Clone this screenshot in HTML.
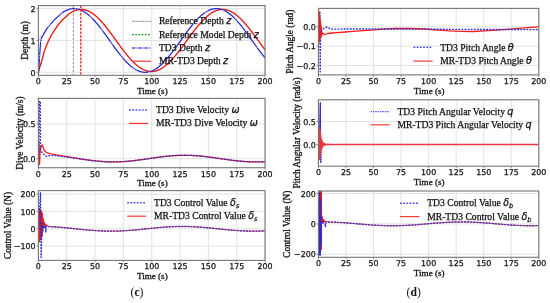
<!DOCTYPE html>
<html><head><meta charset="utf-8"><title>Figure</title><style>
html,body{margin:0;padding:0;background:#fff;overflow:hidden;}
svg{display:block;}
.tk{font-family:"DejaVu Sans","Liberation Sans",sans-serif;font-size:7.95px;fill:#111;stroke:#111;stroke-width:0.25px;}
.lb{font-family:"Liberation Serif",serif;font-size:9.3px;fill:#111;stroke:#111;stroke-width:0.3px;}
.xl{font-size:9.1px;}
.lg{font-family:"Liberation Serif",serif;font-size:9.65px;fill:#111;stroke:#111;stroke-width:0.25px;}
.m{font-family:"DejaVu Sans",sans-serif;font-style:oblique;}
.cap{font-family:"Liberation Serif",serif;font-size:11.6px;fill:#111;}
</style></head>
<body><svg width="550" height="303" viewBox="0 0 550 303">
<defs><clipPath id="clipA"><rect x="38.4" y="5.6" width="226.65" height="69.7"/></clipPath><clipPath id="clipB"><rect x="38.4" y="98.4" width="226.65" height="69.29999999999998"/></clipPath><clipPath id="clipC"><rect x="38.4" y="190.6" width="226.65" height="69.79999999999998"/></clipPath><clipPath id="clipD"><rect x="318.45" y="8.4" width="220.34999999999997" height="66.5"/></clipPath><clipPath id="clipE"><rect x="318.45" y="99.8" width="220.34999999999997" height="66.39999999999999"/></clipPath><clipPath id="clipF"><rect x="318.45" y="191.0" width="220.34999999999997" height="66.30000000000001"/></clipPath></defs>
<rect width="550" height="303" fill="#fff"/>
<path d="M38.4,5.6V75.3M66.73,5.6V75.3M95.06,5.6V75.3M123.39,5.6V75.3M151.72,5.6V75.3M180.06,5.6V75.3M208.39,5.6V75.3M236.72,5.6V75.3M265.05,5.6V75.3M38.4,72.3H265.05M38.4,40.45H265.05M38.4,8.6H265.05" stroke="#dcdcdc" stroke-width="0.8" fill="none"/>
<g clip-path="url(#clipA)">
<path d="M38.4,40.45 L39.16,39.38 L39.92,38.32 L40.67,37.26 L41.43,36.2 L42.19,35.15 L42.95,34.1 L43.71,33.06 L44.46,32.03 L45.22,31.01 L45.98,30 L46.74,29 L47.5,28.01 L48.25,27.03 L49.01,26.08 L49.77,25.13 L50.53,24.21 L51.29,23.3 L52.04,22.41 L52.8,21.55 L53.56,20.7 L54.32,19.87 L55.08,19.07 L55.83,18.3 L56.59,17.54 L57.35,16.82 L58.11,16.12 L58.87,15.44 L59.62,14.8 L60.38,14.18 L61.14,13.59 L61.9,13.03 L62.66,12.51 L63.41,12.01 L64.17,11.55 L64.93,11.12 L65.69,10.72 L66.45,10.35 L67.21,10.02 L67.96,9.72 L68.72,9.46 L69.48,9.23 L70.24,9.04 L71,8.88 L71.75,8.76 L72.51,8.67 L73.27,8.62 L74.03,8.6 L74.79,8.62 L75.54,8.67 L76.3,8.76 L77.06,8.89 L77.82,9.05 L78.58,9.25 L79.33,9.48 L80.09,9.74 L80.85,10.04 L81.61,10.38 L82.37,10.74 L83.12,11.14 L83.88,11.58 L84.64,12.04 L85.4,12.54 L86.16,13.07 L86.91,13.63 L87.67,14.22 L88.43,14.84 L89.19,15.49 L89.95,16.16 L90.7,16.86 L91.46,17.59 L92.22,18.35 L92.98,19.13 L93.74,19.93 L94.49,20.75 L95.25,21.6 L96.01,22.47 L96.77,23.36 L97.53,24.27 L98.28,25.2 L99.04,26.14 L99.8,27.1 L100.56,28.07 L101.32,29.06 L102.07,30.06 L102.83,31.07 L103.59,32.1 L104.35,33.13 L105.11,34.17 L105.86,35.22 L106.62,36.27 L107.38,37.33 L108.14,38.39 L108.9,39.46 L109.65,40.52 L110.41,41.59 L111.17,42.65 L111.93,43.71 L112.69,44.77 L113.44,45.82 L114.2,46.87 L114.96,47.91 L115.72,48.94 L116.48,49.96 L117.23,50.97 L117.99,51.97 L118.75,52.96 L119.51,53.93 L120.27,54.89 L121.02,55.83 L121.78,56.75 L122.54,57.66 L123.3,58.54 L124.06,59.41 L124.82,60.26 L125.57,61.08 L126.33,61.88 L127.09,62.66 L127.85,63.41 L128.61,64.13 L129.36,64.83 L130.12,65.5 L130.88,66.15 L131.64,66.76 L132.4,67.35 L133.15,67.9 L133.91,68.43 L134.67,68.92 L135.43,69.38 L136.19,69.81 L136.94,70.21 L137.7,70.57 L138.46,70.9 L139.22,71.19 L139.98,71.46 L140.73,71.68 L141.49,71.87 L142.25,72.03 L143.01,72.15 L143.77,72.24 L144.52,72.29 L145.28,72.3 L146.04,72.28 L146.8,72.22 L147.56,72.13 L148.31,72 L149.07,71.84 L149.83,71.64 L150.59,71.41 L151.35,71.14 L152.1,70.84 L152.86,70.5 L153.62,70.13 L154.38,69.73 L155.14,69.29 L155.89,68.82 L156.65,68.32 L157.41,67.79 L158.17,67.23 L158.93,66.64 L159.68,66.02 L160.44,65.37 L161.2,64.69 L161.96,63.99 L162.72,63.26 L163.47,62.5 L164.23,61.72 L164.99,60.92 L165.75,60.09 L166.51,59.24 L167.26,58.37 L168.02,57.48 L168.78,56.57 L169.54,55.64 L170.3,54.7 L171.05,53.74 L171.81,52.76 L172.57,51.77 L173.33,50.77 L174.09,49.76 L174.84,48.73 L175.6,47.7 L176.36,46.66 L177.12,45.61 L177.88,44.56 L178.63,43.5 L179.39,42.44 L180.15,41.37 L180.91,40.31 L181.67,39.24 L182.43,38.18 L183.18,37.12 L183.94,36.06 L184.7,35.01 L185.46,33.96 L186.22,32.92 L186.97,31.89 L187.73,30.87 L188.49,29.86 L189.25,28.86 L190.01,27.88 L190.76,26.91 L191.52,25.95 L192.28,25.01 L193.04,24.09 L193.8,23.18 L194.55,22.3 L195.31,21.43 L196.07,20.59 L196.83,19.77 L197.59,18.97 L198.34,18.19 L199.1,17.44 L199.86,16.72 L200.62,16.02 L201.38,15.35 L202.13,14.71 L202.89,14.1 L203.65,13.52 L204.41,12.96 L205.17,12.44 L205.92,11.95 L206.68,11.49 L207.44,11.06 L208.2,10.67 L208.96,10.31 L209.71,9.98 L210.47,9.69 L211.23,9.43 L211.99,9.2 L212.75,9.02 L213.5,8.86 L214.26,8.74 L215.02,8.66 L215.78,8.61 L216.54,8.6 L217.29,8.62 L218.05,8.68 L218.81,8.78 L219.57,8.91 L220.33,9.07 L221.08,9.27 L221.84,9.51 L222.6,9.78 L223.36,10.08 L224.12,10.42 L224.87,10.8 L225.63,11.2 L226.39,11.64 L227.15,12.11 L227.91,12.61 L228.66,13.14 L229.42,13.71 L230.18,14.3 L230.94,14.92 L231.7,15.57 L232.45,16.25 L233.21,16.96 L233.97,17.69 L234.73,18.45 L235.49,19.23 L236.24,20.04 L237,20.87 L237.76,21.72 L238.52,22.59 L239.28,23.48 L240.04,24.39 L240.79,25.32 L241.55,26.27 L242.31,27.23 L243.07,28.2 L243.83,29.19 L244.58,30.2 L245.34,31.21 L246.1,32.23 L246.86,33.27 L247.62,34.31 L248.37,35.36 L249.13,36.41 L249.89,37.47 L250.65,38.53 L251.41,39.6 L252.16,40.66 L252.92,41.73 L253.68,42.79 L254.44,43.85 L255.2,44.91 L255.95,45.96 L256.71,47.01 L257.47,48.04 L258.23,49.07 L258.99,50.1 L259.74,51.1 L260.5,52.1 L261.26,53.09 L262.02,54.06 L262.78,55.01 L263.53,55.95 L264.29,56.87 L265.05,57.78" fill="none" stroke="#888888" stroke-width="0.7" stroke-linecap="butt" stroke-linejoin="round" stroke-dasharray="2.5,1.5"/>
<path d="M38.4,72.3 L38.8,70.8 L39.3,68.3 L40.2,66 L41.25,62.8 L42.6,57.6 L44,52.4 L46.1,46.4 L48.2,41.4 L51,35.8 L54.2,30.6 L58.1,25 L63.4,18.9 L68.7,14.2 L69.5,13.48 L70.15,13.05 L70.81,12.64 L71.46,12.25 L72.12,11.89 L72.77,11.55 L73.42,11.23 L74.08,10.94 L74.73,10.67 L75.39,10.43 L76.04,10.21 L76.69,10.02 L77.35,9.86 L78,9.72 L78.66,9.6 L79.31,9.51 L79.96,9.45 L80.62,9.41 L81.27,9.4 L81.93,9.41 L82.58,9.46 L83.23,9.53 L83.89,9.63 L84.54,9.75 L85.2,9.91 L85.85,10.09 L86.5,10.3 L87.16,10.53 L87.81,10.79 L88.47,11.08 L89.12,11.39 L89.77,11.73 L90.43,12.09 L91.08,12.48 L91.74,12.89 L92.39,13.33 L93.04,13.79 L93.7,14.27 L94.35,14.77 L95.01,15.3 L95.66,15.85 L96.31,16.42 L96.97,17.01 L97.62,17.62 L98.28,18.25 L98.93,18.9 L99.58,19.57 L100.24,20.26 L100.89,20.96 L101.55,21.68 L102.2,22.41 L102.85,23.16 L103.51,23.93 L104.16,24.71 L104.82,25.5 L105.47,26.3 L106.12,27.12 L106.78,27.95 L107.43,28.79 L108.09,29.64 L108.74,30.49 L109.39,31.36 L110.05,32.23 L110.7,33.11 L111.36,33.99 L112.01,34.89 L112.66,35.78 L113.32,36.68 L113.97,37.58 L114.63,38.49 L115.28,39.39 L115.93,40.3 L116.59,41.2 L117.24,42.11 L117.9,43.01 L118.55,43.91 L119.21,44.81 L119.86,45.71 L120.51,46.6 L121.17,47.48 L121.82,48.36 L122.48,49.23 L123.13,50.09 L123.78,50.95 L124.44,51.79 L125.09,52.63 L125.75,53.45 L126.4,54.27 L127.05,55.07 L127.71,55.86 L128.36,56.64 L129.02,57.4 L129.67,58.15 L130.32,58.88 L130.98,59.6 L131.63,60.3 L132.29,60.99 L132.94,61.66 L133.59,62.31 L134.25,62.94 L134.9,63.55 L135.56,64.14 L136.21,64.72 L136.86,65.27 L137.52,65.8 L138.17,66.31 L138.83,66.8 L139.48,67.26 L140.13,67.7 L140.79,68.12 L141.44,68.52 L142.1,68.89 L142.75,69.24 L143.4,69.57 L144.06,69.87 L144.71,70.14 L145.37,70.4 L146.02,70.62 L146.67,70.82 L147.33,71 L147.98,71.15 L148.64,71.27 L149.29,71.37 L149.94,71.44 L150.6,71.48 L151.25,71.5 L151.91,71.5 L152.56,71.46 L153.21,71.41 L153.87,71.32 L154.52,71.21 L155.18,71.08 L155.83,70.91 L156.48,70.73 L157.14,70.51 L157.79,70.28 L158.45,70.01 L159.1,69.73 L159.75,69.42 L160.41,69.08 L161.06,68.72 L161.72,68.34 L162.37,67.93 L163.02,67.5 L163.68,67.05 L164.33,66.57 L164.99,66.08 L165.64,65.56 L166.29,65.02 L166.95,64.46 L167.6,63.88 L168.26,63.28 L168.91,62.67 L169.56,62.03 L170.22,61.37 L170.87,60.7 L171.53,60.01 L172.18,59.31 L172.83,58.59 L173.49,57.85 L174.14,57.1 L174.8,56.34 L175.45,55.56 L176.1,54.77 L176.76,53.97 L177.41,53.15 L178.07,52.33 L178.72,51.5 L179.37,50.65 L180.03,49.8 L180.68,48.94 L181.34,48.08 L181.99,47.2 L182.64,46.33 L183.3,45.44 L183.95,44.55 L184.61,43.66 L185.26,42.77 L185.91,41.88 L186.57,40.98 L187.22,40.08 L187.88,39.19 L188.53,38.29 L189.18,37.4 L189.84,36.51 L190.49,35.62 L191.15,34.73 L191.8,33.85 L192.45,32.98 L193.11,32.11 L193.76,31.25 L194.42,30.4 L195.07,29.56 L195.72,28.72 L196.38,27.9 L197.03,27.08 L197.69,26.28 L198.34,25.49 L198.99,24.71 L199.65,23.94 L200.3,23.19 L200.96,22.45 L201.61,21.73 L202.26,21.02 L202.92,20.33 L203.57,19.65 L204.23,19 L204.88,18.36 L205.53,17.74 L206.19,17.14 L206.84,16.55 L207.5,15.99 L208.15,15.45 L208.8,14.93 L209.46,14.43 L210.11,13.95 L210.77,13.49 L211.42,13.06 L212.07,12.65 L212.73,12.26 L213.38,11.9 L214.04,11.56 L214.69,11.24 L215.34,10.95 L216,10.68 L216.65,10.44 L217.31,10.22 L217.96,10.03 L218.62,9.86 L219.27,9.72 L219.92,9.6 L220.58,9.51 L221.23,9.45 L221.89,9.41 L222.54,9.4 L223.19,9.41 L223.85,9.45 L224.5,9.51 L225.16,9.6 L225.81,9.72 L226.46,9.86 L227.12,10.03 L227.77,10.22 L228.43,10.44 L229.08,10.68 L229.73,10.95 L230.39,11.24 L231.04,11.56 L231.7,11.9 L232.35,12.26 L233,12.65 L233.66,13.06 L234.31,13.49 L234.97,13.95 L235.62,14.43 L236.27,14.93 L236.93,15.45 L237.58,15.99 L238.24,16.55 L238.89,17.14 L239.54,17.74 L240.2,18.36 L240.85,19 L241.51,19.65 L242.16,20.33 L242.81,21.02 L243.47,21.73 L244.12,22.45 L244.78,23.19 L245.43,23.94 L246.08,24.7 L246.74,25.48 L247.39,26.28 L248.05,27.08 L248.7,27.89 L249.35,28.72 L250.01,29.55 L250.66,30.4 L251.32,31.25 L251.97,32.11 L252.62,32.97 L253.28,33.85 L253.93,34.72 L254.59,35.61 L255.24,36.49 L255.89,37.39 L256.55,38.28 L257.2,39.17 L257.86,40.07 L258.51,40.96 L259.16,41.86 L259.82,42.75 L260.47,43.65 L261.13,44.54 L261.78,45.42 L262.43,46.31 L263.09,47.18 L263.74,48.06 L264.4,48.92 L265.05,49.78" fill="none" stroke="#1a9a1a" stroke-width="1.0" stroke-linecap="butt" stroke-linejoin="round" stroke-dasharray="1.5,1.2"/>
<path d="M38.4,72.3 L38.8,70.8 L39.3,68.3 L40.2,66 L41.25,62.8 L42.6,57.6 L44,52.4 L46.1,46.4 L48.2,41.4 L51,35.8 L54.2,30.6 L58.1,25 L63.4,18.9 L68.7,14.2 L69.5,13.48 L70.15,13.05 L70.81,12.64 L71.46,12.25 L72.12,11.89 L72.77,11.55 L73.42,11.23 L74.08,10.94 L74.73,10.67 L75.39,10.43 L76.04,10.21 L76.69,10.02 L77.35,9.86 L78,9.72 L78.66,9.6 L79.31,9.51 L79.96,9.45 L80.62,9.41 L81.27,9.4 L81.93,9.41 L82.58,9.46 L83.23,9.53 L83.89,9.63 L84.54,9.75 L85.2,9.91 L85.85,10.09 L86.5,10.3 L87.16,10.53 L87.81,10.79 L88.47,11.08 L89.12,11.39 L89.77,11.73 L90.43,12.09 L91.08,12.48 L91.74,12.89 L92.39,13.33 L93.04,13.79 L93.7,14.27 L94.35,14.77 L95.01,15.3 L95.66,15.85 L96.31,16.42 L96.97,17.01 L97.62,17.62 L98.28,18.25 L98.93,18.9 L99.58,19.57 L100.24,20.26 L100.89,20.96 L101.55,21.68 L102.2,22.41 L102.85,23.16 L103.51,23.93 L104.16,24.71 L104.82,25.5 L105.47,26.3 L106.12,27.12 L106.78,27.95 L107.43,28.79 L108.09,29.64 L108.74,30.49 L109.39,31.36 L110.05,32.23 L110.7,33.11 L111.36,33.99 L112.01,34.89 L112.66,35.78 L113.32,36.68 L113.97,37.58 L114.63,38.49 L115.28,39.39 L115.93,40.3 L116.59,41.2 L117.24,42.11 L117.9,43.01 L118.55,43.91 L119.21,44.81 L119.86,45.71 L120.51,46.6 L121.17,47.48 L121.82,48.36 L122.48,49.23 L123.13,50.09 L123.78,50.95 L124.44,51.79 L125.09,52.63 L125.75,53.45 L126.4,54.27 L127.05,55.07 L127.71,55.86 L128.36,56.64 L129.02,57.4 L129.67,58.15 L130.32,58.88 L130.98,59.6 L131.63,60.3 L132.29,60.99 L132.94,61.66 L133.59,62.31 L134.25,62.94 L134.9,63.55 L135.56,64.14 L136.21,64.72 L136.86,65.27 L137.52,65.8 L138.17,66.31 L138.83,66.8 L139.48,67.26 L140.13,67.7 L140.79,68.12 L141.44,68.52 L142.1,68.89 L142.75,69.24 L143.4,69.57 L144.06,69.87 L144.71,70.14 L145.37,70.4 L146.02,70.62 L146.67,70.82 L147.33,71 L147.98,71.15 L148.64,71.27 L149.29,71.37 L149.94,71.44 L150.6,71.48 L151.25,71.5 L151.91,71.5 L152.56,71.46 L153.21,71.41 L153.87,71.32 L154.52,71.21 L155.18,71.08 L155.83,70.91 L156.48,70.73 L157.14,70.51 L157.79,70.28 L158.45,70.01 L159.1,69.73 L159.75,69.42 L160.41,69.08 L161.06,68.72 L161.72,68.34 L162.37,67.93 L163.02,67.5 L163.68,67.05 L164.33,66.57 L164.99,66.08 L165.64,65.56 L166.29,65.02 L166.95,64.46 L167.6,63.88 L168.26,63.28 L168.91,62.67 L169.56,62.03 L170.22,61.37 L170.87,60.7 L171.53,60.01 L172.18,59.31 L172.83,58.59 L173.49,57.85 L174.14,57.1 L174.8,56.34 L175.45,55.56 L176.1,54.77 L176.76,53.97 L177.41,53.15 L178.07,52.33 L178.72,51.5 L179.37,50.65 L180.03,49.8 L180.68,48.94 L181.34,48.08 L181.99,47.2 L182.64,46.33 L183.3,45.44 L183.95,44.55 L184.61,43.66 L185.26,42.77 L185.91,41.88 L186.57,40.98 L187.22,40.08 L187.88,39.19 L188.53,38.29 L189.18,37.4 L189.84,36.51 L190.49,35.62 L191.15,34.73 L191.8,33.85 L192.45,32.98 L193.11,32.11 L193.76,31.25 L194.42,30.4 L195.07,29.56 L195.72,28.72 L196.38,27.9 L197.03,27.08 L197.69,26.28 L198.34,25.49 L198.99,24.71 L199.65,23.94 L200.3,23.19 L200.96,22.45 L201.61,21.73 L202.26,21.02 L202.92,20.33 L203.57,19.65 L204.23,19 L204.88,18.36 L205.53,17.74 L206.19,17.14 L206.84,16.55 L207.5,15.99 L208.15,15.45 L208.8,14.93 L209.46,14.43 L210.11,13.95 L210.77,13.49 L211.42,13.06 L212.07,12.65 L212.73,12.26 L213.38,11.9 L214.04,11.56 L214.69,11.24 L215.34,10.95 L216,10.68 L216.65,10.44 L217.31,10.22 L217.96,10.03 L218.62,9.86 L219.27,9.72 L219.92,9.6 L220.58,9.51 L221.23,9.45 L221.89,9.41 L222.54,9.4 L223.19,9.41 L223.85,9.45 L224.5,9.51 L225.16,9.6 L225.81,9.72 L226.46,9.86 L227.12,10.03 L227.77,10.22 L228.43,10.44 L229.08,10.68 L229.73,10.95 L230.39,11.24 L231.04,11.56 L231.7,11.9 L232.35,12.26 L233,12.65 L233.66,13.06 L234.31,13.49 L234.97,13.95 L235.62,14.43 L236.27,14.93 L236.93,15.45 L237.58,15.99 L238.24,16.55 L238.89,17.14 L239.54,17.74 L240.2,18.36 L240.85,19 L241.51,19.65 L242.16,20.33 L242.81,21.02 L243.47,21.73 L244.12,22.45 L244.78,23.19 L245.43,23.94 L246.08,24.7 L246.74,25.48 L247.39,26.28 L248.05,27.08 L248.7,27.89 L249.35,28.72 L250.01,29.55 L250.66,30.4 L251.32,31.25 L251.97,32.11 L252.62,32.97 L253.28,33.85 L253.93,34.72 L254.59,35.61 L255.24,36.49 L255.89,37.39 L256.55,38.28 L257.2,39.17 L257.86,40.07 L258.51,40.96 L259.16,41.86 L259.82,42.75 L260.47,43.65 L261.13,44.54 L261.78,45.42 L262.43,46.31 L263.09,47.18 L263.74,48.06 L264.4,48.92 L265.05,49.78" fill="none" stroke="#f21c1c" stroke-width="1.35" stroke-linecap="butt" stroke-linejoin="round"/>
<path d="M38.4,72.3 L38.7,70 L39.2,62.8 L39.9,51.7 L40.6,42.2 L41.3,38.3 L42.2,36.6 L43.3,35 L46.2,29.6 L50.2,24.6 L55.5,18.7 L60.8,14.2 L61.6,13.25 L62.28,12.77 L62.96,12.31 L63.64,11.87 L64.32,11.46 L65,11.08 L65.68,10.72 L66.36,10.39 L67.04,10.09 L67.72,9.81 L68.4,9.57 L69.08,9.35 L69.77,9.15 L70.45,8.99 L71.13,8.86 L71.81,8.75 L72.49,8.67 L73.17,8.62 L73.85,8.6 L74.53,8.61 L75.21,8.65 L75.89,8.71 L76.57,8.8 L77.25,8.93 L77.93,9.08 L78.61,9.26 L79.29,9.46 L79.97,9.7 L80.65,9.96 L81.33,10.25 L82.01,10.57 L82.69,10.91 L83.37,11.28 L84.05,11.68 L84.73,12.1 L85.42,12.55 L86.1,13.03 L86.78,13.53 L87.46,14.05 L88.14,14.6 L88.82,15.17 L89.5,15.76 L90.18,16.37 L90.86,17.01 L91.54,17.67 L92.22,18.35 L92.9,19.04 L93.58,19.76 L94.26,20.5 L94.94,21.25 L95.62,22.02 L96.3,22.81 L96.98,23.62 L97.66,24.44 L98.34,25.27 L99.02,26.12 L99.7,26.98 L100.38,27.85 L101.07,28.73 L101.75,29.63 L102.43,30.53 L103.11,31.44 L103.79,32.36 L104.47,33.29 L105.15,34.23 L105.83,35.17 L106.51,36.11 L107.19,37.06 L107.87,38.01 L108.55,38.97 L109.23,39.92 L109.91,40.88 L110.59,41.84 L111.27,42.79 L111.95,43.74 L112.63,44.69 L113.31,45.64 L113.99,46.58 L114.67,47.51 L115.35,48.44 L116.03,49.37 L116.72,50.28 L117.4,51.18 L118.08,52.08 L118.76,52.96 L119.44,53.84 L120.12,54.7 L120.8,55.55 L121.48,56.38 L122.16,57.2 L122.84,58.01 L123.52,58.8 L124.2,59.57 L124.88,60.33 L125.56,61.07 L126.24,61.79 L126.92,62.49 L127.6,63.17 L128.28,63.83 L128.96,64.46 L129.64,65.08 L130.32,65.68 L131,66.25 L131.68,66.8 L132.37,67.32 L133.05,67.82 L133.73,68.3 L134.41,68.75 L135.09,69.18 L135.77,69.58 L136.45,69.95 L137.13,70.3 L137.81,70.62 L138.49,70.91 L139.17,71.18 L139.85,71.41 L140.53,71.62 L141.21,71.81 L141.89,71.96 L142.57,72.09 L143.25,72.18 L143.93,72.25 L144.61,72.29 L145.29,72.3 L145.97,72.28 L146.65,72.24 L147.33,72.16 L148.02,72.06 L148.7,71.92 L149.38,71.76 L150.06,71.57 L150.74,71.36 L151.42,71.11 L152.1,70.84 L152.78,70.54 L153.46,70.21 L154.14,69.86 L154.82,69.48 L155.5,69.07 L156.18,68.64 L156.86,68.18 L157.54,67.7 L158.22,67.19 L158.9,66.66 L159.58,66.1 L160.26,65.53 L160.94,64.93 L161.62,64.3 L162.3,63.66 L162.98,62.99 L163.67,62.31 L164.35,61.6 L165.03,60.88 L165.71,60.14 L166.39,59.38 L167.07,58.6 L167.75,57.8 L168.43,56.99 L169.11,56.17 L169.79,55.33 L170.47,54.48 L171.15,53.62 L171.83,52.74 L172.51,51.85 L173.19,50.95 L173.87,50.05 L174.55,49.13 L175.23,48.21 L175.91,47.28 L176.59,46.34 L177.27,45.4 L177.95,44.45 L178.63,43.5 L179.32,42.55 L180,41.59 L180.68,40.64 L181.36,39.68 L182.04,38.72 L182.72,37.77 L183.4,36.82 L184.08,35.87 L184.76,34.93 L185.44,33.99 L186.12,33.05 L186.8,32.13 L187.48,31.21 L188.16,30.3 L188.84,29.4 L189.52,28.5 L190.2,27.62 L190.88,26.75 L191.56,25.9 L192.24,25.05 L192.92,24.22 L193.6,23.41 L194.28,22.61 L194.97,21.82 L195.65,21.06 L196.33,20.31 L197.01,19.58 L197.69,18.86 L198.37,18.17 L199.05,17.5 L199.73,16.84 L200.41,16.21 L201.09,15.6 L201.77,15.02 L202.45,14.45 L203.13,13.91 L203.81,13.4 L204.49,12.9 L205.17,12.44 L205.85,11.99 L206.53,11.58 L207.21,11.19 L207.89,10.82 L208.57,10.48 L209.25,10.17 L209.93,9.89 L210.62,9.64 L211.3,9.41 L211.98,9.21 L212.66,9.04 L213.34,8.89 L214.02,8.78 L214.7,8.69 L215.38,8.63 L216.06,8.6 L216.74,8.6 L217.42,8.63 L218.1,8.69 L218.78,8.77 L219.46,8.89 L220.14,9.03 L220.82,9.2 L221.5,9.4 L222.18,9.63 L222.86,9.88 L223.54,10.16 L224.22,10.47 L224.9,10.81 L225.58,11.17 L226.27,11.56 L226.95,11.98 L227.63,12.42 L228.31,12.89 L228.99,13.38 L229.67,13.89 L230.35,14.43 L231.03,15 L231.71,15.58 L232.39,16.19 L233.07,16.82 L233.75,17.47 L234.43,18.15 L235.11,18.84 L235.79,19.55 L236.47,20.28 L237.15,21.03 L237.83,21.8 L238.51,22.58 L239.19,23.38 L239.87,24.2 L240.55,25.03 L241.23,25.87 L241.92,26.73 L242.6,27.59 L243.28,28.47 L243.96,29.37 L244.64,30.27 L245.32,31.18 L246,32.1 L246.68,33.02 L247.36,33.96 L248.04,34.89 L248.72,35.84 L249.4,36.79 L250.08,37.74 L250.76,38.69 L251.44,39.65 L252.12,40.6 L252.8,41.56 L253.48,42.51 L254.16,43.47 L254.84,44.42 L255.52,45.36 L256.2,46.31 L256.88,47.24 L257.57,48.18 L258.25,49.1 L258.93,50.02 L259.61,50.92 L260.29,51.82 L260.97,52.71 L261.65,53.59 L262.33,54.45 L263.01,55.3 L263.69,56.14 L264.37,56.97 L265.05,57.78" fill="none" stroke="#2a2ad8" stroke-width="1.25" stroke-linecap="butt" stroke-linejoin="round" stroke-dasharray="14,0.6,1.6,0.6"/>
<path d="M73.4,5.6 L73.4,75.3" fill="none" stroke="#777777" stroke-width="0.8" stroke-linecap="butt" stroke-linejoin="round" stroke-dasharray="2.5,1.5"/>
<path d="M80.8,5.6 L80.8,75.3" fill="none" stroke="#ff2a2a" stroke-width="1.4" stroke-linecap="butt" stroke-linejoin="round" stroke-dasharray="2.5,1.2"/>
</g>
<rect x="38.4" y="5.6" width="226.65" height="69.7" fill="none" stroke="#767676" stroke-width="1.1"/>
<path d="M38.4,75.3v2M66.73,75.3v2M95.06,75.3v2M123.39,75.3v2M151.72,75.3v2M180.06,75.3v2M208.39,75.3v2M236.72,75.3v2M265.05,75.3v2M38.4,72.3h-2M38.4,40.45h-2M38.4,8.6h-2" stroke="#767676" stroke-width="0.8" fill="none"/>
<text x="38.4" y="84.3" class="tk" text-anchor="middle">0</text>
<text x="66.73" y="84.3" class="tk" text-anchor="middle">25</text>
<text x="95.06" y="84.3" class="tk" text-anchor="middle">50</text>
<text x="123.39" y="84.3" class="tk" text-anchor="middle">75</text>
<text x="151.72" y="84.3" class="tk" text-anchor="middle">100</text>
<text x="180.06" y="84.3" class="tk" text-anchor="middle">125</text>
<text x="208.39" y="84.3" class="tk" text-anchor="middle">150</text>
<text x="236.72" y="84.3" class="tk" text-anchor="middle">175</text>
<text x="265.05" y="84.3" class="tk" text-anchor="middle">200</text>
<text x="35.6" y="75.55" class="tk" text-anchor="end">0</text>
<text x="35.6" y="43.7" class="tk" text-anchor="end">1</text>
<text x="35.6" y="11.85" class="tk" text-anchor="end">2</text>
<text x="152.32" y="94" class="lb xl" text-anchor="middle">Time (s)</text>
<text class="lb" text-anchor="middle" transform="translate(28.3,40.45) rotate(-90)">Depth (m)</text>
<path d="M132,21.3 L151.1,21.3" fill="none" stroke="#4a4a4a" stroke-width="0.7" stroke-linecap="butt" stroke-linejoin="round" stroke-dasharray="1.3,0.5"/>
<text x="158.9" y="24.4" class="lg">Reference Depth <tspan class="m">z</tspan></text>
<path d="M132,34.6 L151.1,34.6" fill="none" stroke="#1f9f1f" stroke-width="1.3" stroke-linecap="butt" stroke-linejoin="round" stroke-dasharray="1.8,1.4"/>
<text x="158.9" y="37.7" class="lg">Reference Model Depth <tspan class="m">z</tspan></text>
<path d="M132,48 L151.1,48" fill="none" stroke="#5050f8" stroke-width="1.4" stroke-linecap="butt" stroke-linejoin="round" stroke-dasharray="3.4,0.9,1,0.9"/>
<text x="158.9" y="51.1" class="lg">TD3 Depth <tspan class="m">z</tspan></text>
<path d="M132,61.2 L151.1,61.2" fill="none" stroke="#fa3a3a" stroke-width="1.2" stroke-linecap="butt" stroke-linejoin="round"/>
<text x="158.9" y="64.3" class="lg">MR-TD3 Depth <tspan class="m">z</tspan></text>
<path d="M38.4,98.4V167.7M66.73,98.4V167.7M95.06,98.4V167.7M123.39,98.4V167.7M151.72,98.4V167.7M180.06,98.4V167.7M208.39,98.4V167.7M236.72,98.4V167.7M265.05,98.4V167.7M38.4,158.6H265.05M38.4,124H265.05" stroke="#dcdcdc" stroke-width="0.8" fill="none"/>
<g clip-path="url(#clipB)">
<path d="M38.5,158.6 L38.9,141.4 L39.5,164.4 L40.3,149 L41.3,146.5 L42.35,144.8 L43.2,147.6 L44.1,150 L45.8,152 L47.5,152.9 L51,153.8 L55.6,154.6 L56.5,154.95 L57.2,155.06 L57.89,155.17 L58.59,155.28 L59.29,155.39 L59.99,155.5 L60.68,155.61 L61.38,155.72 L62.08,155.83 L62.78,155.95 L63.47,156.06 L64.17,156.17 L64.87,156.28 L65.57,156.4 L66.26,156.51 L66.96,156.62 L67.66,156.74 L68.36,156.85 L69.05,156.97 L69.75,157.08 L70.45,157.2 L71.15,157.31 L71.84,157.43 L72.54,157.54 L73.24,157.66 L73.94,157.77 L74.63,157.88 L75.33,158 L76.03,158.11 L76.73,158.23 L77.42,158.34 L78.12,158.45 L78.82,158.56 L79.52,158.68 L80.21,158.79 L80.91,158.9 L81.61,159 L82.31,159.11 L83,159.22 L83.7,159.33 L84.4,159.43 L85.1,159.53 L85.79,159.64 L86.49,159.74 L87.19,159.84 L87.89,159.94 L88.58,160.03 L89.28,160.13 L89.98,160.22 L90.68,160.31 L91.37,160.4 L92.07,160.49 L92.77,160.57 L93.47,160.66 L94.16,160.74 L94.86,160.81 L95.56,160.89 L96.26,160.97 L96.95,161.04 L97.65,161.11 L98.35,161.17 L99.05,161.24 L99.74,161.3 L100.44,161.36 L101.14,161.41 L101.84,161.47 L102.53,161.52 L103.23,161.56 L103.93,161.61 L104.63,161.65 L105.32,161.69 L106.02,161.72 L106.72,161.75 L107.42,161.78 L108.11,161.81 L108.81,161.83 L109.51,161.85 L110.21,161.87 L110.9,161.88 L111.6,161.89 L112.3,161.9 L113,161.91 L113.69,161.91 L114.39,161.9 L115.09,161.9 L115.79,161.89 L116.48,161.88 L117.18,161.86 L117.88,161.85 L118.58,161.82 L119.27,161.8 L119.97,161.77 L120.67,161.74 L121.37,161.71 L122.06,161.67 L122.76,161.63 L123.46,161.59 L124.16,161.55 L124.85,161.5 L125.55,161.45 L126.25,161.4 L126.95,161.34 L127.64,161.28 L128.34,161.22 L129.04,161.16 L129.74,161.09 L130.43,161.02 L131.13,160.95 L131.83,160.88 L132.53,160.8 L133.22,160.72 L133.92,160.65 L134.62,160.56 L135.32,160.48 L136.01,160.4 L136.71,160.31 L137.41,160.22 L138.11,160.13 L138.8,160.04 L139.5,159.95 L140.2,159.85 L140.9,159.76 L141.59,159.66 L142.29,159.57 L142.99,159.47 L143.69,159.37 L144.38,159.27 L145.08,159.17 L145.78,159.07 L146.48,158.97 L147.17,158.86 L147.87,158.76 L148.57,158.66 L149.27,158.56 L149.96,158.46 L150.66,158.35 L151.36,158.25 L152.06,158.15 L152.75,158.05 L153.45,157.95 L154.15,157.85 L154.85,157.75 L155.54,157.65 L156.24,157.55 L156.94,157.46 L157.64,157.36 L158.33,157.27 L159.03,157.18 L159.73,157.08 L160.43,156.99 L161.12,156.9 L161.82,156.82 L162.52,156.73 L163.22,156.65 L163.91,156.57 L164.61,156.49 L165.31,156.41 L166.01,156.33 L166.7,156.26 L167.4,156.19 L168.1,156.12 L168.8,156.05 L169.49,155.99 L170.19,155.93 L170.89,155.87 L171.59,155.81 L172.28,155.76 L172.98,155.7 L173.68,155.66 L174.38,155.61 L175.07,155.57 L175.77,155.53 L176.47,155.49 L177.17,155.45 L177.86,155.42 L178.56,155.4 L179.26,155.37 L179.96,155.35 L180.65,155.33 L181.35,155.31 L182.05,155.3 L182.75,155.29 L183.44,155.28 L184.14,155.28 L184.84,155.28 L185.54,155.28 L186.23,155.29 L186.93,155.3 L187.63,155.31 L188.33,155.32 L189.02,155.34 L189.72,155.36 L190.42,155.39 L191.12,155.42 L191.81,155.45 L192.51,155.48 L193.21,155.52 L193.91,155.56 L194.6,155.6 L195.3,155.64 L196,155.69 L196.7,155.74 L197.39,155.79 L198.09,155.85 L198.79,155.91 L199.49,155.97 L200.18,156.03 L200.88,156.1 L201.58,156.17 L202.28,156.24 L202.97,156.31 L203.67,156.39 L204.37,156.46 L205.07,156.54 L205.76,156.63 L206.46,156.71 L207.16,156.79 L207.86,156.88 L208.55,156.97 L209.25,157.06 L209.95,157.15 L210.65,157.24 L211.34,157.34 L212.04,157.43 L212.74,157.53 L213.44,157.62 L214.13,157.72 L214.83,157.82 L215.53,157.92 L216.23,158.02 L216.92,158.12 L217.62,158.22 L218.32,158.33 L219.02,158.43 L219.71,158.53 L220.41,158.63 L221.11,158.73 L221.81,158.84 L222.5,158.94 L223.2,159.04 L223.9,159.14 L224.6,159.24 L225.29,159.34 L225.99,159.44 L226.69,159.54 L227.39,159.64 L228.08,159.73 L228.78,159.83 L229.48,159.92 L230.18,160.02 L230.87,160.11 L231.57,160.2 L232.27,160.29 L232.97,160.37 L233.66,160.46 L234.36,160.54 L235.06,160.63 L235.76,160.71 L236.45,160.78 L237.15,160.86 L237.85,160.93 L238.55,161.01 L239.24,161.07 L239.94,161.14 L240.64,161.21 L241.34,161.27 L242.03,161.33 L242.73,161.39 L243.43,161.44 L244.13,161.49 L244.82,161.54 L245.52,161.59 L246.22,161.63 L246.92,161.67 L247.61,161.71 L248.31,161.74 L249.01,161.77 L249.71,161.8 L250.4,161.83 L251.1,161.85 L251.8,161.87 L252.5,161.89 L253.19,161.9 L253.89,161.91 L254.59,161.92 L255.29,161.92 L255.98,161.92 L256.68,161.92 L257.38,161.91 L258.08,161.9 L258.77,161.89 L259.47,161.88 L260.17,161.86 L260.87,161.84 L261.56,161.81 L262.26,161.79 L262.96,161.76 L263.66,161.72 L264.35,161.69 L265.05,161.65" fill="none" stroke="#f21c1c" stroke-width="1.3" stroke-linecap="butt" stroke-linejoin="round"/>
<path d="M38.5,158.6 L39.6,101 L40.3,101.5 L40.5,149.4 L41.2,151.2 L42.9,153.5 L45.2,155.8 L46.4,156.4 L48.7,155.7 L52,155.6 L55.6,155.6 L56.5,155.92 L57.2,155.98 L57.89,156.05 L58.59,156.11 L59.29,156.18 L59.99,156.25 L60.68,156.33 L61.38,156.4 L62.08,156.48 L62.78,156.56 L63.47,156.64 L64.17,156.72 L64.87,156.81 L65.57,156.9 L66.26,156.98 L66.96,157.07 L67.66,157.17 L68.36,157.26 L69.05,157.35 L69.75,157.45 L70.45,157.54 L71.15,157.64 L71.84,157.74 L72.54,157.84 L73.24,157.94 L73.94,158.04 L74.63,158.14 L75.33,158.24 L76.03,158.34 L76.73,158.45 L77.42,158.55 L78.12,158.65 L78.82,158.75 L79.52,158.85 L80.21,158.96 L80.91,159.06 L81.61,159.16 L82.31,159.26 L83,159.36 L83.7,159.46 L84.4,159.56 L85.1,159.65 L85.79,159.75 L86.49,159.85 L87.19,159.94 L87.89,160.03 L88.58,160.12 L89.28,160.21 L89.98,160.3 L90.68,160.39 L91.37,160.47 L92.07,160.56 L92.77,160.64 L93.47,160.72 L94.16,160.8 L94.86,160.87 L95.56,160.95 L96.26,161.02 L96.95,161.09 L97.65,161.15 L98.35,161.22 L99.05,161.28 L99.74,161.34 L100.44,161.39 L101.14,161.45 L101.84,161.5 L102.53,161.55 L103.23,161.59 L103.93,161.64 L104.63,161.68 L105.32,161.71 L106.02,161.75 L106.72,161.78 L107.42,161.81 L108.11,161.83 L108.81,161.85 L109.51,161.87 L110.21,161.89 L110.9,161.9 L111.6,161.91 L112.3,161.92 L113,161.92 L113.69,161.92 L114.39,161.92 L115.09,161.91 L115.79,161.9 L116.48,161.89 L117.18,161.88 L117.88,161.86 L118.58,161.83 L119.27,161.81 L119.97,161.78 L120.67,161.75 L121.37,161.72 L122.06,161.68 L122.76,161.64 L123.46,161.6 L124.16,161.55 L124.85,161.51 L125.55,161.45 L126.25,161.4 L126.95,161.34 L127.64,161.29 L128.34,161.22 L129.04,161.16 L129.74,161.09 L130.43,161.03 L131.13,160.95 L131.83,160.88 L132.53,160.81 L133.22,160.73 L133.92,160.65 L134.62,160.57 L135.32,160.48 L136.01,160.4 L136.71,160.31 L137.41,160.22 L138.11,160.13 L138.8,160.04 L139.5,159.95 L140.2,159.86 L140.9,159.76 L141.59,159.66 L142.29,159.57 L142.99,159.47 L143.69,159.37 L144.38,159.27 L145.08,159.17 L145.78,159.07 L146.48,158.97 L147.17,158.87 L147.87,158.76 L148.57,158.66 L149.27,158.56 L149.96,158.46 L150.66,158.35 L151.36,158.25 L152.06,158.15 L152.75,158.05 L153.45,157.95 L154.15,157.85 L154.85,157.75 L155.54,157.65 L156.24,157.55 L156.94,157.46 L157.64,157.36 L158.33,157.27 L159.03,157.18 L159.73,157.08 L160.43,156.99 L161.12,156.91 L161.82,156.82 L162.52,156.73 L163.22,156.65 L163.91,156.57 L164.61,156.49 L165.31,156.41 L166.01,156.33 L166.7,156.26 L167.4,156.19 L168.1,156.12 L168.8,156.05 L169.49,155.99 L170.19,155.93 L170.89,155.87 L171.59,155.81 L172.28,155.76 L172.98,155.7 L173.68,155.66 L174.38,155.61 L175.07,155.57 L175.77,155.53 L176.47,155.49 L177.17,155.45 L177.86,155.42 L178.56,155.4 L179.26,155.37 L179.96,155.35 L180.65,155.33 L181.35,155.31 L182.05,155.3 L182.75,155.29 L183.44,155.28 L184.14,155.28 L184.84,155.28 L185.54,155.28 L186.23,155.29 L186.93,155.3 L187.63,155.31 L188.33,155.32 L189.02,155.34 L189.72,155.36 L190.42,155.39 L191.12,155.42 L191.81,155.45 L192.51,155.48 L193.21,155.52 L193.91,155.56 L194.6,155.6 L195.3,155.64 L196,155.69 L196.7,155.74 L197.39,155.79 L198.09,155.85 L198.79,155.91 L199.49,155.97 L200.18,156.03 L200.88,156.1 L201.58,156.17 L202.28,156.24 L202.97,156.31 L203.67,156.39 L204.37,156.46 L205.07,156.54 L205.76,156.63 L206.46,156.71 L207.16,156.79 L207.86,156.88 L208.55,156.97 L209.25,157.06 L209.95,157.15 L210.65,157.24 L211.34,157.34 L212.04,157.43 L212.74,157.53 L213.44,157.62 L214.13,157.72 L214.83,157.82 L215.53,157.92 L216.23,158.02 L216.92,158.12 L217.62,158.22 L218.32,158.33 L219.02,158.43 L219.71,158.53 L220.41,158.63 L221.11,158.73 L221.81,158.84 L222.5,158.94 L223.2,159.04 L223.9,159.14 L224.6,159.24 L225.29,159.34 L225.99,159.44 L226.69,159.54 L227.39,159.64 L228.08,159.73 L228.78,159.83 L229.48,159.92 L230.18,160.02 L230.87,160.11 L231.57,160.2 L232.27,160.29 L232.97,160.37 L233.66,160.46 L234.36,160.54 L235.06,160.63 L235.76,160.71 L236.45,160.78 L237.15,160.86 L237.85,160.93 L238.55,161.01 L239.24,161.07 L239.94,161.14 L240.64,161.21 L241.34,161.27 L242.03,161.33 L242.73,161.39 L243.43,161.44 L244.13,161.49 L244.82,161.54 L245.52,161.59 L246.22,161.63 L246.92,161.67 L247.61,161.71 L248.31,161.74 L249.01,161.77 L249.71,161.8 L250.4,161.83 L251.1,161.85 L251.8,161.87 L252.5,161.89 L253.19,161.9 L253.89,161.91 L254.59,161.92 L255.29,161.92 L255.98,161.92 L256.68,161.92 L257.38,161.91 L258.08,161.9 L258.77,161.89 L259.47,161.88 L260.17,161.86 L260.87,161.84 L261.56,161.81 L262.26,161.79 L262.96,161.76 L263.66,161.72 L264.35,161.69 L265.05,161.65" fill="none" stroke="#2a2ad8" stroke-width="1.35" stroke-linecap="butt" stroke-linejoin="round" stroke-dasharray="1.8,1.3"/>
</g>
<rect x="38.4" y="98.4" width="226.65" height="69.3" fill="none" stroke="#767676" stroke-width="1.1"/>
<path d="M38.4,167.7v2M66.73,167.7v2M95.06,167.7v2M123.39,167.7v2M151.72,167.7v2M180.06,167.7v2M208.39,167.7v2M236.72,167.7v2M265.05,167.7v2M38.4,158.6h-2M38.4,124h-2" stroke="#767676" stroke-width="0.8" fill="none"/>
<text x="38.4" y="176.7" class="tk" text-anchor="middle">0</text>
<text x="66.73" y="176.7" class="tk" text-anchor="middle">25</text>
<text x="95.06" y="176.7" class="tk" text-anchor="middle">50</text>
<text x="123.39" y="176.7" class="tk" text-anchor="middle">75</text>
<text x="151.72" y="176.7" class="tk" text-anchor="middle">100</text>
<text x="180.06" y="176.7" class="tk" text-anchor="middle">125</text>
<text x="208.39" y="176.7" class="tk" text-anchor="middle">150</text>
<text x="236.72" y="176.7" class="tk" text-anchor="middle">175</text>
<text x="265.05" y="176.7" class="tk" text-anchor="middle">200</text>
<text x="35.6" y="161.85" class="tk" text-anchor="end">0.0</text>
<text x="35.6" y="127.25" class="tk" text-anchor="end">0.5</text>
<text x="152.32" y="186.4" class="lb xl" text-anchor="middle">Time (s)</text>
<text class="lb" text-anchor="middle" transform="translate(22.5,133.05) rotate(-90)">Dive Velocity (m/s)</text>
<path d="M129.1,110 L148.1,110" fill="none" stroke="#5050f8" stroke-width="1.6" stroke-linecap="butt" stroke-linejoin="round" stroke-dasharray="1.8,1.4"/>
<text x="156" y="112.9" class="lg">TD3 Dive Velocity <tspan class="m">ω</tspan></text>
<path d="M129.1,123.4 L148.1,123.4" fill="none" stroke="#fa3a3a" stroke-width="1.2" stroke-linecap="butt" stroke-linejoin="round"/>
<text x="156" y="126.3" class="lg">MR-TD3 Dive Velocity <tspan class="m">ω</tspan></text>
<path d="M38.4,190.6V260.4M66.73,190.6V260.4M95.06,190.6V260.4M123.39,190.6V260.4M151.72,190.6V260.4M180.06,190.6V260.4M208.39,190.6V260.4M236.72,190.6V260.4M265.05,190.6V260.4M38.4,246.15H265.05M38.4,228.8H265.05M38.4,211.45H265.05M38.4,194.1H265.05" stroke="#dcdcdc" stroke-width="0.8" fill="none"/>
<g clip-path="url(#clipC)">
<path d="M38.4,225.33 L38.43,215.06 L38.45,208.42 L38.48,207.7 L38.51,213.11 L38.54,222.73 L38.56,233.2 L38.59,240.86 L38.62,243.05 L38.64,239.03 L38.67,230.24 L38.7,219.75 L38.72,211.23 L38.75,207.62 L38.78,210.17 L38.81,217.94 L38.83,228.2 L38.86,237.36 L38.89,242.24 L38.91,241.15 L38.94,234.5 L38.97,224.64 L39,215.01 L39.02,208.96 L39.05,208.58 L39.08,213.96 L39.1,223.2 L39.13,233.06 L39.16,240.1 L39.18,241.87 L39.21,237.79 L39.24,229.31 L39.27,219.4 L39.29,211.51 L39.32,208.39 L39.35,211.08 L39.37,218.62 L39.4,228.35 L39.43,236.87 L39.45,241.21 L39.48,239.89 L39.51,233.39 L39.54,224 L39.56,215.01 L39.59,209.53 L39.62,209.46 L39.64,214.78 L39.67,223.62 L39.7,232.86 L39.73,239.29 L39.75,240.69 L39.78,236.58 L39.81,228.43 L39.83,219.1 L39.86,211.84 L39.89,209.16 L39.91,211.97 L39.94,219.25 L39.97,228.44 L40,236.33 L40.02,240.17 L40.05,238.65 L40.08,232.33 L40.1,223.43 L40.13,215.06 L40.16,210.13 L40.19,210.34 L40.21,215.57 L40.24,223.97 L40.27,232.6 L40.29,238.45 L40.32,239.49 L40.35,235.39 L40.37,227.61 L40.4,218.87 L40.43,212.22 L40.46,209.95 L40.48,212.84 L40.51,219.83 L40.54,228.47 L40.56,235.73 L40.59,239.1 L40.62,237.42 L40.64,231.31 L40.67,222.91 L40.7,215.17 L40.73,210.77 L40.75,211.21 L40.78,216.32 L40.81,224.27 L40.83,232.29 L40.86,237.57 L40.89,238.3 L40.92,234.24 L40.94,226.84 L40.97,218.69 L41,212.63 L41.02,210.76 L41.05,213.68 L41.08,220.36 L41.1,228.44 L41.13,235.09 L41.16,238.01 L41.19,236.21 L41.21,230.33 L41.24,222.45 L41.27,215.33 L41.29,211.43 L41.32,212.08 L41.35,217.03 L41.38,224.52 L41.4,231.92 L41.43,236.66 L41.46,237.1 L41.48,233.12 L41.51,226.12 L41.54,218.57 L41.56,213.09 L41.59,211.57 L41.62,214.5 L41.65,220.84 L41.67,228.35 L41.7,234.41 L41.73,236.91 L41.75,235.01 L41.78,229.4 L41.81,222.05 L41.83,215.54 L41.86,212.11 L41.89,212.94 L41.92,217.7 L41.94,224.7 L41.97,231.5 L42,235.72 L42.02,235.91 L42.05,231.85 L42.08,225.34 L42.11,218.72 L42.13,214.24 L42.16,213.31 L42.19,216.08 L42.21,221.41 L42.24,227.35 L42.27,231.83 L42.29,233.38 L42.32,231.6 L42.35,227.23 L42.38,221.89 L42.4,217.43 L42.43,215.32 L42.46,216.18 L42.48,219.55 L42.51,224.17 L42.54,228.39 L42.57,230.79 L42.59,230.62 L42.62,228.06 L42.65,224.09 L42.67,220.12 L42.7,217.51 L42.73,217.08 L42.75,218.88 L42.78,222.17 L42.81,225.78 L42.84,228.44 L42.86,229.29 L42.89,228.13 L42.92,225.44 L42.94,222.21 L42.97,219.57 L43,218.4 L43.02,219.02 L43.05,221.14 L43.08,223.96 L43.11,226.5 L43.13,227.89 L43.16,227.73 L43.19,226.13 L43.21,223.71 L43.24,221.34 L43.27,219.83 L43.3,219.65 L43.32,220.81 L43.35,222.85 L43.38,225.04 L43.4,226.62 L43.43,227.09 L43.46,226.34 L43.48,224.68 L43.51,222.74 L43.54,221.19 L43.57,220.54 L43.59,220.98 L43.62,222.31 L43.65,224.04 L43.67,225.57 L43.7,226.38 L43.73,226.24 L43.76,225.25 L43.78,223.78 L43.81,222.37 L43.84,221.5 L43.86,221.44 L43.89,222.19 L43.92,223.46 L43.94,224.78 L43.97,225.73 L44,225.98 L44.03,225.5 L44.05,224.49 L44.08,223.33 L44.11,222.41 L44.13,222.06 L44.16,222.37 L44.19,223.21 L44.22,224.27 L44.24,225.19 L44.27,225.67 L44.3,225.56 L44.32,224.95 L44.35,224.06 L44.38,223.22 L44.4,222.72 L44.43,222.73 L44.46,223.21 L44.49,223.99 L44.51,224.8 L44.54,225.36 L44.57,225.51 L44.59,225.2 L44.62,224.59 L44.65,223.89 L44.67,223.36 L44.7,223.17 L44.73,223.39 L44.76,223.91 L44.78,224.57 L44.81,225.12 L44.84,225.4 L44.86,225.33 L44.89,224.95 L44.92,224.42 L44.95,223.92 L44.97,223.64 L45,223.67 L45.03,223.98 L45.05,224.47 L45.08,224.96 L45.11,225.3 L45.13,225.38 L45.16,225.19 L45.19,224.82 L45.22,224.4 L45.24,224.09 L45.27,224 L45.3,224.15 L45.32,224.48 L45.35,224.88 L45.38,225.22 L45.41,225.39 L45.43,225.34 L45.46,225.11 L45.49,224.79 L45.51,224.5 L45.54,224.34 L45.57,224.37 L45.59,224.58 L45.62,224.88 L45.65,225.18 L45.68,225.39 L45.7,225.43 L45.73,225.31 L45.76,225.09 L45.78,224.85 L45.81,224.67 L45.84,224.63 L45.86,224.73 L45.89,224.94 L45.92,225.19 L45.95,225.39 L45.97,225.49 L46,225.46 L46.03,225.32 L46.05,225.13 L46.08,224.97 L46.11,224.88 L46.14,224.91 L46.16,225.04 L46.19,225.23 L46.22,225.42 L46.24,225.54 L46.27,225.57 L46.3,225.5 L46.32,225.37 L46.35,225.23 L46.38,225.13 L46.41,225.11 L46.43,225.18 L46.46,225.31 L46.49,225.47 L46.51,225.6 L46.54,225.66 L46.57,225.64 L46.6,225.55 L46.62,225.44 L46.65,225.35 L46.68,225.3 L46.7,225.33 L46.73,225.42 L46.76,225.54 L46.78,225.65 L46.81,225.73 L46.84,225.74 L46.87,225.7 L46.89,225.62 L46.92,225.54 L46.95,225.49 L46.97,225.48 L47,225.53 L47.03,225.62 L47.05,225.72 L47.08,225.79 L47.11,225.83 L47.14,225.82 L47.16,225.77 L47.19,225.71 L47.22,225.66 L47.24,225.63 L47.27,225.65 L47.3,225.71 L47.33,225.79 L47.35,225.86 L47.38,225.91 L47.41,225.92 L47.43,225.9 L47.46,225.85 L47.49,225.8 L47.51,225.78 L47.54,225.78 L47.57,225.81 L47.6,225.87 L47.62,225.93 L47.65,225.98 L47.68,226 L47.7,226 L47.73,225.97 L47.76,225.93 L47.79,225.9 L47.81,225.89 L47.84,225.91 L47.87,225.95 L47.89,226 L47.92,226.04 L47.95,226.07 L47.97,226.08 L48,226.07 L48.03,226.04 L48.06,226.02 L48.08,226 L48.11,226.01 L48.14,226.03 L48.16,226.07 L48.19,226.11 L48.22,226.14 L48.24,226.16 L48.27,226.15 L48.3,226.14 L48.33,226.12 L48.35,226.1 L48.38,226.1 L48.41,226.11 L48.43,226.14 L48.46,226.17 L48.49,226.2 L48.52,226.22 L48.54,226.23 L48.57,226.22 L48.6,226.21 L48.62,226.19 L48.65,226.19 L48.68,226.19 L48.7,226.21 L48.73,226.23 L48.76,226.26 L48.79,226.28 L48.81,226.29 L48.84,226.29 L48.87,226.28 L48.89,226.27 L48.92,226.26 L48.95,226.26 L48.98,226.27 L49,226.29 L49.03,226.31 L49.06,226.33 L49.08,226.34 L49.11,226.35 L49.14,226.35 L49.16,226.34 L49.19,226.33 L49.22,226.33 L49.25,226.34 L49.27,226.35 L49.3,226.36 L49.33,226.38 L49.35,226.39 L49.38,226.4 L49.41,226.4 L49.43,226.4 L49.46,226.39 L49.49,226.39 L49.52,226.39 L49.54,226.4 L49.57,226.41 L49.6,226.43 L49.62,226.44 L49.65,226.45 L49.68,226.45 L49.71,226.45 L49.73,226.45 L49.73,226.45 L50.45,226.56 L51.17,226.65 L51.89,226.72 L52.61,226.78 L53.33,226.84 L54.05,226.89 L54.77,226.94 L55.49,226.99 L56.21,227.04 L56.93,227.09 L57.65,227.14 L58.37,227.19 L59.09,227.25 L59.81,227.3 L60.53,227.36 L61.25,227.42 L61.97,227.48 L62.69,227.54 L63.41,227.61 L64.14,227.67 L64.86,227.74 L65.58,227.81 L66.3,227.87 L67.02,227.94 L67.74,228.01 L68.46,228.08 L69.18,228.15 L69.9,228.23 L70.62,228.3 L71.34,228.37 L72.06,228.44 L72.78,228.52 L73.5,228.59 L74.22,228.67 L74.94,228.74 L75.66,228.81 L76.38,228.89 L77.1,228.96 L77.82,229.04 L78.54,229.11 L79.26,229.18 L79.98,229.26 L80.7,229.33 L81.42,229.4 L82.14,229.47 L82.86,229.55 L83.58,229.62 L84.3,229.69 L85.02,229.75 L85.74,229.82 L86.46,229.89 L87.18,229.95 L87.9,230.02 L88.62,230.08 L89.34,230.14 L90.06,230.2 L90.78,230.26 L91.5,230.32 L92.22,230.37 L92.94,230.43 L93.66,230.48 L94.38,230.53 L95.1,230.58 L95.82,230.63 L96.54,230.67 L97.26,230.72 L97.98,230.76 L98.7,230.8 L99.42,230.84 L100.14,230.87 L100.86,230.91 L101.58,230.94 L102.3,230.97 L103.02,230.99 L103.74,231.02 L104.46,231.04 L105.18,231.06 L105.9,231.08 L106.62,231.1 L107.34,231.11 L108.06,231.12 L108.78,231.13 L109.5,231.14 L110.22,231.14 L110.94,231.14 L111.66,231.14 L112.38,231.14 L113.1,231.13 L113.82,231.13 L114.54,231.12 L115.26,231.1 L115.98,231.09 L116.7,231.07 L117.42,231.05 L118.14,231.03 L118.86,231.01 L119.58,230.98 L120.3,230.95 L121.02,230.92 L121.75,230.89 L122.47,230.85 L123.19,230.82 L123.91,230.78 L124.63,230.74 L125.35,230.7 L126.07,230.65 L126.79,230.6 L127.51,230.56 L128.23,230.51 L128.95,230.45 L129.67,230.4 L130.39,230.35 L131.11,230.29 L131.83,230.23 L132.55,230.17 L133.27,230.11 L133.99,230.05 L134.71,229.98 L135.43,229.92 L136.15,229.85 L136.87,229.79 L137.59,229.72 L138.31,229.65 L139.03,229.58 L139.75,229.51 L140.47,229.44 L141.19,229.37 L141.91,229.29 L142.63,229.22 L143.35,229.15 L144.07,229.07 L144.79,229 L145.51,228.93 L146.23,228.85 L146.95,228.78 L147.67,228.7 L148.39,228.63 L149.11,228.55 L149.83,228.48 L150.55,228.41 L151.27,228.33 L151.99,228.26 L152.71,228.19 L153.43,228.12 L154.15,228.05 L154.87,227.98 L155.59,227.91 L156.31,227.84 L157.03,227.77 L157.75,227.7 L158.47,227.64 L159.19,227.58 L159.91,227.51 L160.63,227.45 L161.35,227.39 L162.07,227.33 L162.79,227.27 L163.51,227.22 L164.23,227.17 L164.95,227.11 L165.67,227.06 L166.39,227.01 L167.11,226.97 L167.83,226.92 L168.55,226.88 L169.27,226.84 L169.99,226.8 L170.71,226.76 L171.43,226.72 L172.15,226.69 L172.87,226.66 L173.59,226.63 L174.31,226.6 L175.03,226.58 L175.75,226.56 L176.47,226.54 L177.19,226.52 L177.91,226.5 L178.63,226.49 L179.36,226.48 L180.08,226.47 L180.8,226.46 L181.52,226.46 L182.24,226.46 L182.96,226.46 L183.68,226.46 L184.4,226.47 L185.12,226.48 L185.84,226.49 L186.56,226.5 L187.28,226.51 L188,226.53 L188.72,226.55 L189.44,226.57 L190.16,226.6 L190.88,226.62 L191.6,226.65 L192.32,226.68 L193.04,226.71 L193.76,226.75 L194.48,226.79 L195.2,226.83 L195.92,226.87 L196.64,226.91 L197.36,226.95 L198.08,227 L198.8,227.05 L199.52,227.1 L200.24,227.15 L200.96,227.21 L201.68,227.26 L202.4,227.32 L203.12,227.38 L203.84,227.44 L204.56,227.5 L205.28,227.56 L206,227.62 L206.72,227.69 L207.44,227.75 L208.16,227.82 L208.88,227.89 L209.6,227.96 L210.32,228.03 L211.04,228.1 L211.76,228.17 L212.48,228.24 L213.2,228.32 L213.92,228.39 L214.64,228.46 L215.36,228.54 L216.08,228.61 L216.8,228.68 L217.52,228.76 L218.24,228.83 L218.96,228.91 L219.68,228.98 L220.4,229.06 L221.12,229.13 L221.84,229.2 L222.56,229.28 L223.28,229.35 L224,229.42 L224.72,229.49 L225.44,229.56 L226.16,229.63 L226.88,229.7 L227.6,229.77 L228.32,229.84 L229.04,229.9 L229.76,229.97 L230.48,230.03 L231.2,230.1 L231.92,230.16 L232.64,230.22 L233.36,230.27 L234.08,230.33 L234.8,230.39 L235.52,230.44 L236.24,230.49 L236.97,230.54 L237.69,230.59 L238.41,230.64 L239.13,230.69 L239.85,230.73 L240.57,230.77 L241.29,230.81 L242.01,230.85 L242.73,230.88 L243.45,230.91 L244.17,230.95 L244.89,230.97 L245.61,231 L246.33,231.03 L247.05,231.05 L247.77,231.07 L248.49,231.08 L249.21,231.1 L249.93,231.11 L250.65,231.12 L251.37,231.13 L252.09,231.14 L252.81,231.14 L253.53,231.14 L254.25,231.14 L254.97,231.14 L255.69,231.13 L256.41,231.12 L257.13,231.11 L257.85,231.1 L258.57,231.08 L259.29,231.07 L260.01,231.05 L260.73,231.02 L261.45,231 L262.17,230.97 L262.89,230.95 L263.61,230.91 L264.33,230.88 L265.05,230.85" fill="none" stroke="#f21c1c" stroke-width="1.0" stroke-linecap="butt" stroke-linejoin="round"/>
<path d="M38.5,228.8 L40.5,193 L41.1,257.5 L41.7,236 L42.2,222.5 L42.8,232 L43.5,225.5 L44.3,228.5 L45.3,226.2 L45.8,232 L46.3,226.5 L48,226.6 L48.8,226.64 L49.52,226.67 L50.25,226.7 L50.97,226.73 L51.69,226.77 L52.42,226.81 L53.14,226.85 L53.86,226.89 L54.59,226.93 L55.31,226.98 L56.03,227.03 L56.76,227.08 L57.48,227.13 L58.2,227.18 L58.93,227.23 L59.65,227.29 L60.37,227.35 L61.1,227.41 L61.82,227.47 L62.54,227.53 L63.26,227.59 L63.99,227.66 L64.71,227.73 L65.43,227.79 L66.16,227.86 L66.88,227.93 L67.6,228 L68.33,228.07 L69.05,228.14 L69.77,228.21 L70.5,228.29 L71.22,228.36 L71.94,228.43 L72.67,228.51 L73.39,228.58 L74.11,228.66 L74.84,228.73 L75.56,228.8 L76.28,228.88 L77.01,228.95 L77.73,229.03 L78.45,229.1 L79.18,229.18 L79.9,229.25 L80.62,229.32 L81.35,229.4 L82.07,229.47 L82.79,229.54 L83.52,229.61 L84.24,229.68 L84.96,229.75 L85.69,229.82 L86.41,229.88 L87.13,229.95 L87.86,230.01 L88.58,230.08 L89.3,230.14 L90.02,230.2 L90.75,230.26 L91.47,230.32 L92.19,230.37 L92.92,230.43 L93.64,230.48 L94.36,230.53 L95.09,230.58 L95.81,230.63 L96.53,230.67 L97.26,230.72 L97.98,230.76 L98.7,230.8 L99.43,230.84 L100.15,230.87 L100.87,230.91 L101.6,230.94 L102.32,230.97 L103.04,231 L103.77,231.02 L104.49,231.04 L105.21,231.06 L105.94,231.08 L106.66,231.1 L107.38,231.11 L108.11,231.12 L108.83,231.13 L109.55,231.14 L110.28,231.14 L111,231.14 L111.72,231.14 L112.45,231.14 L113.17,231.13 L113.89,231.12 L114.62,231.11 L115.34,231.1 L116.06,231.09 L116.78,231.07 L117.51,231.05 L118.23,231.03 L118.95,231 L119.68,230.98 L120.4,230.95 L121.12,230.92 L121.85,230.88 L122.57,230.85 L123.29,230.81 L124.02,230.77 L124.74,230.73 L125.46,230.69 L126.19,230.64 L126.91,230.6 L127.63,230.55 L128.36,230.5 L129.08,230.44 L129.8,230.39 L130.53,230.33 L131.25,230.28 L131.97,230.22 L132.7,230.16 L133.42,230.1 L134.14,230.03 L134.87,229.97 L135.59,229.9 L136.31,229.84 L137.04,229.77 L137.76,229.7 L138.48,229.63 L139.21,229.56 L139.93,229.49 L140.65,229.42 L141.38,229.35 L142.1,229.27 L142.82,229.2 L143.54,229.13 L144.27,229.05 L144.99,228.98 L145.71,228.9 L146.44,228.83 L147.16,228.75 L147.88,228.68 L148.61,228.61 L149.33,228.53 L150.05,228.46 L150.78,228.38 L151.5,228.31 L152.22,228.24 L152.95,228.16 L153.67,228.09 L154.39,228.02 L155.12,227.95 L155.84,227.88 L156.56,227.81 L157.29,227.75 L158.01,227.68 L158.73,227.62 L159.46,227.55 L160.18,227.49 L160.9,227.43 L161.63,227.37 L162.35,227.31 L163.07,227.25 L163.8,227.2 L164.52,227.14 L165.24,227.09 L165.97,227.04 L166.69,226.99 L167.41,226.95 L168.14,226.9 L168.86,226.86 L169.58,226.82 L170.31,226.78 L171.03,226.74 L171.75,226.71 L172.47,226.68 L173.2,226.65 L173.92,226.62 L174.64,226.59 L175.37,226.57 L176.09,226.55 L176.81,226.53 L177.54,226.51 L178.26,226.5 L178.98,226.48 L179.71,226.47 L180.43,226.47 L181.15,226.46 L181.88,226.46 L182.6,226.46 L183.32,226.46 L184.05,226.46 L184.77,226.47 L185.49,226.48 L186.22,226.49 L186.94,226.51 L187.66,226.52 L188.39,226.54 L189.11,226.56 L189.83,226.59 L190.56,226.61 L191.28,226.64 L192,226.67 L192.73,226.7 L193.45,226.73 L194.17,226.77 L194.9,226.81 L195.62,226.85 L196.34,226.89 L197.07,226.94 L197.79,226.98 L198.51,227.03 L199.23,227.08 L199.96,227.13 L200.68,227.19 L201.4,227.24 L202.13,227.3 L202.85,227.35 L203.57,227.41 L204.3,227.48 L205.02,227.54 L205.74,227.6 L206.47,227.67 L207.19,227.73 L207.91,227.8 L208.64,227.87 L209.36,227.94 L210.08,228.01 L210.81,228.08 L211.53,228.15 L212.25,228.22 L212.98,228.29 L213.7,228.37 L214.42,228.44 L215.15,228.51 L215.87,228.59 L216.59,228.66 L217.32,228.74 L218.04,228.81 L218.76,228.89 L219.49,228.96 L220.21,229.04 L220.93,229.11 L221.66,229.18 L222.38,229.26 L223.1,229.33 L223.83,229.4 L224.55,229.47 L225.27,229.55 L225.99,229.62 L226.72,229.69 L227.44,229.75 L228.16,229.82 L228.89,229.89 L229.61,229.95 L230.33,230.02 L231.06,230.08 L231.78,230.14 L232.5,230.2 L233.23,230.26 L233.95,230.32 L234.67,230.38 L235.4,230.43 L236.12,230.48 L236.84,230.54 L237.57,230.59 L238.29,230.63 L239.01,230.68 L239.74,230.72 L240.46,230.76 L241.18,230.8 L241.91,230.84 L242.63,230.88 L243.35,230.91 L244.08,230.94 L244.8,230.97 L245.52,231 L246.25,231.02 L246.97,231.04 L247.69,231.07 L248.42,231.08 L249.14,231.1 L249.86,231.11 L250.59,231.12 L251.31,231.13 L252.03,231.14 L252.75,231.14 L253.48,231.14 L254.2,231.14 L254.92,231.14 L255.65,231.13 L256.37,231.12 L257.09,231.11 L257.82,231.1 L258.54,231.09 L259.26,231.07 L259.99,231.05 L260.71,231.03 L261.43,231 L262.16,230.97 L262.88,230.95 L263.6,230.91 L264.33,230.88 L265.05,230.85" fill="none" stroke="#2a2ad8" stroke-width="1.35" stroke-linecap="butt" stroke-linejoin="round" stroke-dasharray="1.8,1.3"/>
</g>
<rect x="38.4" y="190.6" width="226.65" height="69.8" fill="none" stroke="#767676" stroke-width="1.1"/>
<path d="M38.4,260.4v2M66.73,260.4v2M95.06,260.4v2M123.39,260.4v2M151.72,260.4v2M180.06,260.4v2M208.39,260.4v2M236.72,260.4v2M265.05,260.4v2M38.4,246.15h-2M38.4,228.8h-2M38.4,211.45h-2M38.4,194.1h-2" stroke="#767676" stroke-width="0.8" fill="none"/>
<text x="38.4" y="269.4" class="tk" text-anchor="middle">0</text>
<text x="66.73" y="269.4" class="tk" text-anchor="middle">25</text>
<text x="95.06" y="269.4" class="tk" text-anchor="middle">50</text>
<text x="123.39" y="269.4" class="tk" text-anchor="middle">75</text>
<text x="151.72" y="269.4" class="tk" text-anchor="middle">100</text>
<text x="180.06" y="269.4" class="tk" text-anchor="middle">125</text>
<text x="208.39" y="269.4" class="tk" text-anchor="middle">150</text>
<text x="236.72" y="269.4" class="tk" text-anchor="middle">175</text>
<text x="265.05" y="269.4" class="tk" text-anchor="middle">200</text>
<text x="35.6" y="249.4" class="tk" text-anchor="end">−100</text>
<text x="35.6" y="232.05" class="tk" text-anchor="end">0</text>
<text x="35.6" y="214.7" class="tk" text-anchor="end">100</text>
<text x="35.6" y="197.35" class="tk" text-anchor="end">200</text>
<text x="152.32" y="279.1" class="lb xl" text-anchor="middle">Time (s)</text>
<text class="lb" text-anchor="middle" transform="translate(10.7,225.5) rotate(-90)">Control Value (N)</text>
<path d="M127.2,202.8 L146.1,202.8" fill="none" stroke="#5050f8" stroke-width="1.6" stroke-linecap="butt" stroke-linejoin="round" stroke-dasharray="1.8,1.4"/>
<text x="154" y="205.75" class="lg">TD3 Control Value <tspan class="m">δ</tspan><tspan class="m" font-size="6.5" dy="1.8">s</tspan></text>
<path d="M127.2,216.2 L146.1,216.2" fill="none" stroke="#fa3a3a" stroke-width="1.2" stroke-linecap="butt" stroke-linejoin="round"/>
<text x="154" y="219.15" class="lg">MR-TD3 Control Value <tspan class="m">δ</tspan><tspan class="m" font-size="6.5" dy="1.8">s</tspan></text>
<path d="M318.45,8.4V74.9M345.99,8.4V74.9M373.54,8.4V74.9M401.08,8.4V74.9M428.62,8.4V74.9M456.17,8.4V74.9M483.71,8.4V74.9M511.26,8.4V74.9M538.8,8.4V74.9M318.45,65.5H538.8M318.45,46.15H538.8M318.45,26.8H538.8" stroke="#dcdcdc" stroke-width="0.8" fill="none"/>
<g clip-path="url(#clipD)">
<path d="M318.6,26.8 L319.5,11.8 L319.9,11.8 L320.2,71.8 L320.6,31.2" fill="none" stroke="#2a2ad8" stroke-width="1.35" stroke-linecap="butt" stroke-linejoin="round" stroke-dasharray="1.8,1.3"/>
<path d="M318.45,12.05 L318.46,11.23 L318.48,15.34 L318.49,23.1 L318.51,32.14 L318.52,39.68 L318.53,43.41 L318.55,42.2 L318.56,36.42 L318.58,27.85 L318.59,19.1 L318.6,12.84 L318.62,10.97 L318.63,14.05 L318.65,21.12 L318.66,29.99 L318.67,37.96 L318.69,42.58 L318.7,42.44 L318.72,37.59 L318.73,29.52 L318.74,20.7 L318.76,13.81 L318.77,10.95 L318.79,12.98 L318.8,19.26 L318.81,27.86 L318.83,36.13 L318.84,41.54 L318.86,42.45 L318.87,38.57 L318.89,31.11 L318.9,22.33 L318.91,14.93 L318.93,11.15 L318.94,12.14 L318.96,17.56 L318.97,25.76 L318.98,34.21 L319,40.32 L319.01,42.23 L319.03,39.35 L319.04,32.58 L319.05,23.98 L319.07,16.19 L319.08,11.56 L319.1,11.51 L319.11,16.04 L319.12,23.78 L319.14,32.29 L319.15,38.96 L319.17,41.78 L319.18,39.96 L319.19,34.08 L319.21,26.01 L319.22,18.22 L319.24,13.09 L319.25,12.18 L319.26,15.72 L319.28,22.61 L319.29,30.72 L319.31,37.59 L319.32,41.14 L319.33,40.34 L319.35,35.48 L319.36,28.11 L319.38,20.49 L319.39,14.96 L319.4,13.19 L319.42,15.7 L319.43,21.67 L319.45,29.28 L319.46,36.2 L319.47,40.33 L319.49,40.46 L319.5,36.61 L319.52,30 L319.53,22.68 L319.54,16.9 L319.56,14.41 L319.57,15.94 L319.59,21 L319.6,28.01 L319.62,34.83 L319.63,39.39 L319.64,40.35 L319.66,37.47 L319.67,31.67 L319.69,24.76 L319.7,18.87 L319.71,15.79 L319.73,16.44 L319.74,20.58 L319.76,26.91 L319.77,33.51 L319.78,38.37 L319.8,40.04 L319.81,38.06 L319.83,33.1 L319.84,26.7 L319.85,20.84 L319.87,17.31 L319.88,17.17 L319.9,20.41 L319.91,26.03 L319.92,32.29 L319.94,37.3 L319.95,39.55 L319.97,38.41 L319.98,34.28 L319.99,28.47 L320.01,22.77 L320.02,18.93 L320.04,18.1 L320.05,20.5 L320.06,25.37 L320.08,31.2 L320.09,36.22 L320.11,38.93 L320.12,38.54 L320.13,35.23 L320.15,30.05 L320.16,24.62 L320.18,20.6 L320.19,19.2 L320.2,20.82 L320.22,24.93 L320.23,30.26 L320.25,35.18 L320.26,38.21 L320.27,38.47 L320.29,35.93 L320.3,31.42 L320.32,26.36 L320.33,22.29 L320.35,20.44 L320.36,21.36 L320.37,24.73 L320.39,29.49 L320.4,34.2 L320.42,37.42 L320.43,38.22 L320.44,36.41 L320.46,32.58 L320.47,27.96 L320.49,23.95 L320.5,21.79 L320.51,22.1 L320.53,24.76 L320.54,28.92 L320.56,33.31 L320.57,36.61 L320.58,37.83 L320.6,36.67 L320.61,33.52 L320.63,29.39 L320.64,25.57 L320.65,23.21 L320.67,23.01 L320.68,25.01 L320.7,28.55 L320.71,32.56 L320.72,35.8 L320.74,37.34 L320.75,36.74 L320.77,34.24 L320.78,30.65 L320.79,27.1 L320.81,24.66 L320.82,24.06 L320.84,25.46 L320.85,28.39 L320.86,31.95 L320.88,35.05 L320.89,36.77 L320.91,36.64 L320.92,34.74 L320.93,31.71 L320.95,28.51 L320.96,26.1 L320.98,25.22 L320.99,26.1 L321,28.45 L321.02,31.51 L321.03,34.37 L321.05,36.16 L321.06,36.4 L321.08,35.05 L321.09,32.58 L321.1,29.78 L321.12,27.51 L321.13,26.46 L321.15,26.91 L321.16,28.71 L321.17,31.26 L321.19,33.8 L321.2,35.56 L321.22,36.05 L321.23,35.16 L321.24,33.23 L321.26,30.88 L321.27,28.84 L321.29,27.73 L321.3,27.86 L321.31,29.16 L321.33,31.21 L321.34,33.36 L321.36,34.99 L321.37,35.62 L321.38,35.12 L321.4,33.69 L321.41,31.81 L321.43,30.08 L321.44,29.01 L321.45,28.92 L321.47,29.8 L321.48,31.35 L321.5,33.08 L321.51,34.48 L321.52,35.15 L321.54,34.93 L321.55,33.95 L321.57,32.55 L321.58,31.18 L321.59,30.27 L321.61,30.06 L321.62,30.6 L321.64,31.68 L321.65,32.97 L321.66,34.07 L321.68,34.67 L321.69,34.64 L321.71,34.04 L321.72,33.1 L321.73,32.14 L321.75,31.46 L321.76,31.24 L321.78,31.54 L321.79,32.21 L321.81,33.05 L321.82,33.78 L321.83,34.22 L321.85,34.27 L321.86,33.97 L321.88,33.46 L321.89,32.93 L321.9,32.55 L321.92,32.44 L321.93,32.58 L321.95,32.92 L321.96,33.31 L321.97,33.64 L321.99,33.83 L322,33.85 L322.02,33.75 L322.03,33.62 L322.04,33.53 L322.06,33.53 L322.07,33.61 L322.09,33.71 L322.6,33.2 L324.3,34.5 L326,34.1 L328,33.5 L332,33 L337,32.6 L345.6,32 L349.1,31.7 L360,30.9 L370.9,30.1 L383,29.2 L395,28.5 L410,28.5 L424,29 L438.6,30.2 L450,30.9 L460.5,31.3 L473.5,31.5 L484,30.8 L500,29.8 L513,28.8 L525,27.9 L538.5,26.9" fill="none" stroke="#f21c1c" stroke-width="1.3" stroke-linecap="butt" stroke-linejoin="round"/>
<path d="M320.8,31.2 L322.5,29.4 L324.5,27.8 L326.7,27 L328.5,27.9 L330.3,28.8 L332,29.2 L345.6,29 L370,29 L400,29 L430,29.2 L460,29.4 L500,29.5 L538.5,29.6" fill="none" stroke="#2a2ad8" stroke-width="1.35" stroke-linecap="butt" stroke-linejoin="round" stroke-dasharray="1.8,1.3"/>
</g>
<rect x="318.45" y="8.4" width="220.35" height="66.5" fill="none" stroke="#767676" stroke-width="1.1"/>
<path d="M318.45,74.9v2M345.99,74.9v2M373.54,74.9v2M401.08,74.9v2M428.62,74.9v2M456.17,74.9v2M483.71,74.9v2M511.26,74.9v2M538.8,74.9v2M318.45,65.5h-2M318.45,46.15h-2M318.45,26.8h-2" stroke="#767676" stroke-width="0.8" fill="none"/>
<text x="318.45" y="83.9" class="tk" text-anchor="middle">0</text>
<text x="345.99" y="83.9" class="tk" text-anchor="middle">25</text>
<text x="373.54" y="83.9" class="tk" text-anchor="middle">50</text>
<text x="401.08" y="83.9" class="tk" text-anchor="middle">75</text>
<text x="428.62" y="83.9" class="tk" text-anchor="middle">100</text>
<text x="456.17" y="83.9" class="tk" text-anchor="middle">125</text>
<text x="483.71" y="83.9" class="tk" text-anchor="middle">150</text>
<text x="511.26" y="83.9" class="tk" text-anchor="middle">175</text>
<text x="538.8" y="83.9" class="tk" text-anchor="middle">200</text>
<text x="315.9" y="68.75" class="tk" text-anchor="end">−0.2</text>
<text x="315.9" y="49.4" class="tk" text-anchor="end">−0.1</text>
<text x="315.9" y="30.05" class="tk" text-anchor="end">0.0</text>
<text x="429.23" y="93.6" class="lb xl" text-anchor="middle">Time (s)</text>
<text class="lb" text-anchor="middle" transform="translate(293.4,41.65) rotate(-90)">Pitch Angle (rad)</text>
<path d="M413.5,47.3 L432.6,47.3" fill="none" stroke="#5050f8" stroke-width="1.6" stroke-linecap="butt" stroke-linejoin="round" stroke-dasharray="1.8,1.4"/>
<text x="440.2" y="50.5" class="lg">TD3 Pitch Angle <tspan class="m">θ</tspan></text>
<path d="M413.5,61.1 L432.6,61.1" fill="none" stroke="#fa3a3a" stroke-width="1.2" stroke-linecap="butt" stroke-linejoin="round"/>
<text x="440.2" y="64.3" class="lg">MR-TD3 Pitch Angle <tspan class="m">θ</tspan></text>
<path d="M318.45,99.8V166.2M345.99,99.8V166.2M373.54,99.8V166.2M401.08,99.8V166.2M428.62,99.8V166.2M456.17,99.8V166.2M483.71,99.8V166.2M511.26,99.8V166.2M538.8,99.8V166.2M318.45,144.5H538.8M318.45,121.5H538.8" stroke="#dcdcdc" stroke-width="0.8" fill="none"/>
<g clip-path="url(#clipE)">
<path d="M318.6,144.5 L319.6,130 L320.2,102.6 L320.4,102.6 L320.7,162.7 L321,162.7" fill="none" stroke="#2a2ad8" stroke-width="1.0" stroke-linecap="butt" stroke-linejoin="round"/>
<path d="M321,162.7 L321.5,140 L322,147 L322.6,144.5 L538.5,144.5" fill="none" stroke="#2a2ad8" stroke-width="1.0" stroke-linecap="butt" stroke-linejoin="round" stroke-dasharray="1.4,1.0"/>
<path d="M318.45,130.46 L318.47,127.97 L318.49,131.55 L318.51,139.83 L318.52,149.64 L318.54,157.21 L318.56,159.65 L318.58,156.02 L318.6,147.71 L318.62,137.91 L318.63,130.37 L318.65,127.98 L318.67,131.66 L318.69,139.99 L318.71,149.79 L318.73,157.3 L318.74,159.64 L318.76,155.91 L318.78,147.55 L318.8,137.75 L318.82,130.28 L318.84,127.99 L318.85,131.76 L318.87,140.15 L318.89,149.94 L318.91,157.38 L318.93,159.62 L318.95,155.8 L318.97,147.39 L318.98,137.6 L319,130.19 L319.02,128 L319.04,131.87 L319.06,140.32 L319.08,150.1 L319.09,157.47 L319.11,159.61 L319.13,155.69 L319.15,147.22 L319.17,137.45 L319.19,130.11 L319.2,128.02 L319.22,131.98 L319.24,140.48 L319.26,150.25 L319.28,157.55 L319.3,159.59 L319.31,155.58 L319.33,147.06 L319.35,137.29 L319.37,130.02 L319.39,128.04 L319.41,132.09 L319.42,140.64 L319.44,150.4 L319.46,157.64 L319.48,159.57 L319.5,155.47 L319.52,146.9 L319.54,137.14 L319.55,129.94 L319.57,128.06 L319.59,132.21 L319.61,140.8 L319.63,150.55 L319.65,157.72 L319.66,159.55 L319.68,155.36 L319.7,146.73 L319.72,136.99 L319.74,129.86 L319.76,128.08 L319.77,132.34 L319.79,141.02 L319.81,150.54 L319.83,157.27 L319.85,158.76 L319.87,154.56 L319.88,146.41 L319.9,137.51 L319.92,131.24 L319.94,129.91 L319.96,133.91 L319.98,141.58 L320,149.94 L320.01,155.8 L320.03,157.02 L320.05,153.25 L320.07,146.05 L320.09,138.23 L320.11,132.78 L320.12,131.69 L320.14,135.27 L320.16,142.06 L320.18,149.39 L320.2,154.5 L320.22,155.49 L320.23,152.11 L320.25,145.75 L320.27,138.88 L320.29,134.14 L320.31,133.25 L320.33,136.47 L320.34,142.46 L320.36,148.9 L320.38,153.34 L320.4,154.15 L320.42,151.12 L320.44,145.49 L320.45,139.47 L320.47,135.34 L320.49,134.62 L320.51,137.51 L320.53,142.8 L320.55,148.46 L320.57,152.32 L320.58,152.97 L320.6,150.25 L320.62,145.28 L320.64,140 L320.66,136.41 L320.68,135.83 L320.69,138.41 L320.71,143.09 L320.73,148.06 L320.75,151.41 L320.77,151.93 L320.79,149.5 L320.8,145.11 L320.82,140.47 L320.84,137.35 L320.86,136.89 L320.88,139.2 L320.9,143.34 L320.91,147.69 L320.93,150.61 L320.95,151.02 L320.97,148.84 L320.99,144.96 L321.01,140.89 L321.03,138.18 L321.04,137.82 L321.06,139.89 L321.08,143.55 L321.1,147.36 L321.12,149.9 L321.14,150.22 L321.15,148.27 L321.17,144.84 L321.19,141.27 L321.21,138.92 L321.23,138.64 L321.25,140.49 L321.26,143.72 L321.28,147.07 L321.3,149.27 L321.32,149.52 L321.34,147.78 L321.36,144.75 L321.37,141.62 L321.39,139.57 L321.41,139.36 L321.43,141.01 L321.45,143.86 L321.47,146.8 L321.48,148.72 L321.5,148.91 L321.52,147.35 L321.54,144.67 L321.56,141.92 L321.58,140.15 L321.6,139.99 L321.61,141.47 L321.63,143.99 L321.65,146.56 L321.67,148.23 L321.69,148.36 L321.71,146.97 L321.72,144.61 L321.74,142.2 L321.76,140.65 L321.78,140.54 L321.8,141.86 L321.82,144.09 L321.83,146.35 L321.85,147.79 L321.87,147.89 L321.89,146.64 L321.91,144.56 L321.93,142.44 L321.94,141.1 L321.96,141.03 L321.98,142.21 L322,144.17 L322.02,146.16 L322.04,147.41 L322.06,147.47 L322.07,146.36 L322.09,144.52 L322.11,142.66 L322.13,141.5 L322.15,141.45 L322.17,142.51 L322.18,144.24 L322.2,145.98 L322.22,147.07 L322.24,147.11 L322.26,146.11 L322.28,144.49 L322.29,142.86 L322.31,141.85 L322.33,141.83 L322.35,142.77 L322.37,144.3 L322.39,145.83 L322.4,146.77 L322.42,146.79 L322.44,145.9 L322.46,144.46 L322.48,143.04 L322.5,142.16 L322.51,142.16 L322.53,143 L322.55,144.35 L322.57,145.68 L322.59,146.5 L322.61,146.5 L322.63,145.71 L322.64,144.44 L322.66,143.2 L322.68,142.44 L322.7,142.45 L322.72,143.2 L322.74,144.39 L322.75,145.56 L322.77,146.27 L322.79,146.26 L322.81,145.55 L322.83,144.43 L322.85,143.34 L322.86,142.68 L322.88,142.7 L322.9,143.37 L322.92,144.42 L322.94,145.45 L322.96,146.06 L322.97,146.04 L322.99,145.41 L323.01,144.42 L323.03,143.46 L323.05,142.89 L323.07,142.92 L323.09,143.52 L323.1,144.45 L323.12,145.35 L323.14,145.88 L323.16,145.85 L323.18,145.29 L323.2,144.42 L323.21,143.58 L323.23,143.08 L323.25,143.12 L323.27,143.65 L323.29,144.47 L323.31,145.25 L323.32,145.71 L323.34,145.68 L323.36,145.18 L323.38,144.41 L323.4,143.68 L323.42,143.25 L323.43,143.29 L323.45,143.76 L323.47,144.48 L323.49,145.17 L323.51,145.57 L323.53,145.53 L323.54,145.09 L323.56,144.41 L323.58,143.77 L323.6,143.4 L323.62,143.44 L323.64,143.86 L323.66,144.5 L323.67,145.1 L323.69,145.45 L323.71,145.41 L323.73,145.01 L323.75,144.41 L323.77,143.85 L323.78,143.53 L323.8,143.57 L323.82,143.95 L323.84,144.51 L323.86,145.04 L323.88,145.33 L323.89,145.29 L323.91,144.94 L323.93,144.41 L323.95,143.92 L323.97,143.64 L323.99,143.68 L324,144.02 L324.02,144.51 L324.04,144.98 L324.06,145.24 L324.08,145.2 L324.1,144.88 L324.12,144.42 L324.13,143.98 L324.15,143.74 L324.17,143.79 L324.19,144.08 L324.21,144.52 L324.23,144.93 L324.24,145.15 L324.26,145.11 L324.28,144.83 L324.3,144.42 L324.32,144.04 L324.34,143.83 L324.35,143.87 L324.37,144.14 L324.39,144.52 L324.41,144.88 L324.43,145.07 L324.45,145.03 L324.46,144.78 L324.48,144.42 L324.5,144.09 L324.52,143.91 L324.54,143.95 L324.56,144.19 L324.57,144.53 L324.59,144.84 L324.61,145 L324.63,144.97 L324.65,144.74 L324.67,144.43 L324.69,144.14 L324.7,143.98 L324.72,144.02 L324.74,144.23 L324.76,144.53 L324.78,144.8 L324.8,144.94 L324.81,144.91 L324.83,144.71 L324.85,144.43 L324.87,144.18 L324.89,144.04 L324.91,144.08 L324.92,144.27 L324.94,144.53 L324.96,144.77 L324.98,144.89 L325,144.86 L325.02,144.68 L325.03,144.43 L325.05,144.21 L325.07,144.1 L325.09,144.13 L325.11,144.3 L325.13,144.53 L325.15,144.74 L325.16,144.85 L325.18,144.81 L325.2,144.66 L325.22,144.44 L325.24,144.24 L325.26,144.15 L325.27,144.18 L325.29,144.33 L325.31,144.53 L325.33,144.71 L325.35,144.8 L325.37,144.77 L325.38,144.63 L325.4,144.44 L325.42,144.27 L325.44,144.19 L325.46,144.22 L325.48,144.35 L325.49,144.53 L325.51,144.69 L325.53,144.77 L325.55,144.74 L325.57,144.62 L325.59,144.45 L325.6,144.3 L325.62,144.22 L325.64,144.25 L325.66,144.37 L325.68,144.53 L325.7,144.67 L325.72,144.74 L325.73,144.71 L325.75,144.6 L325.77,144.45 L325.79,144.32 L325.81,144.26 L325.83,144.28 L325.84,144.39 L325.86,144.53 L325.88,144.65 L325.9,144.71 L325.92,144.68 L325.94,144.59 L325.95,144.45 L325.97,144.34 L325.99,144.29 L326.01,144.31 L326.03,144.4 L326.05,144.53 L326.06,144.63 L326.08,144.68 L326.1,144.66 L326.12,144.57 L326.14,144.46 L326.16,144.36 L326.18,144.31 L326.19,144.33 L326.21,144.42 L326.23,144.52 L326.25,144.62 L326.27,144.66 L326.29,144.64 L326.3,144.56 L326.32,144.46 L326.34,144.37 L326.36,144.33 L326.38,144.36 L326.4,144.43 L326.41,144.52 L326.43,144.61 L326.45,144.64 L326.47,144.62 L326.49,144.55 L326.51,144.46 L326.52,144.39 L326.54,144.35 L326.56,144.37 L326.58,144.44 L326.6,144.52 L326.62,144.59 L326.63,144.63 L326.65,144.61 L326.67,144.55 L326.69,144.47 L326.71,144.4 L326.73,144.37 L326.75,144.39 L326.76,144.45 L326.78,144.52 L326.8,144.58 L326.82,144.61 L326.84,144.59 L326.86,144.54 L326.87,144.47 L326.89,144.41 L326.91,144.39 L326.93,144.4 L326.95,144.45 L326.97,144.52 L326.98,144.57 L327,144.6 L327.02,144.58 L327.04,144.53 L327.06,144.47 L327.08,144.42 L327.09,144.4 L327.11,144.42 L327.13,144.46 L327.15,144.52 L327.17,144.57 L327.19,144.59 L327.21,144.57 L327.22,144.53 L327.24,144.48 L327.26,144.43 L327.28,144.41 L327.3,144.43 L327.32,144.47 L327.33,144.52 L327.35,144.56 L327.37,144.58 L327.39,144.56 L327.41,144.52 L327.43,144.48 L327.44,144.44 L327.46,144.42 L327.48,144.44 L327.5,144.47 L327.52,144.52 L327.54,144.55 L327.55,144.57 L327.57,144.55 L327.59,144.52 L327.61,144.48 L327.63,144.45 L327.65,144.43 L327.66,144.44 L327.68,144.48 L327.7,144.51 L327.72,144.55 L327.74,144.56 L327.76,144.55 L327.78,144.52 L327.79,144.48 L327.81,144.45 L327.83,144.44 L327.85,144.45 L327.87,144.48 L327.89,144.51 L327.9,144.54 L327.92,144.55 L327.94,144.54 L327.96,144.52 L327.98,144.48 L328,144.46 L328.01,144.45 L328.03,144.46 L328.05,144.48 L328.07,144.51 L328.09,144.54 L328.11,144.55 L328.12,144.54 L328.14,144.51 L328.16,144.48 L328.18,144.46 L328.2,144.45 L328.22,144.46 L328.24,144.48 L328.25,144.51 L328.27,144.53 L328.29,144.54 L328.31,144.53 L328.33,144.51 L328.35,144.49 L328.36,144.47 L328.38,144.46 L328.4,144.47 L328.42,144.49 L328.44,144.51 L328.46,144.53 L328.47,144.53 L328.49,144.53 L328.51,144.51 L328.53,144.49 L328.55,144.47 L328.57,144.46 L328.58,144.47 L328.6,144.49 L328.62,144.51 L328.64,144.53 L328.66,144.53 L328.68,144.52 L328.69,144.51 L328.71,144.49 L328.73,144.47 L328.75,144.47 L328.77,144.47 L328.79,144.49 L328.81,144.51 L328.82,144.52 L328.84,144.53 L328.86,144.52 L328.88,144.51 L328.9,144.49 L328.92,144.48 L328.93,144.47 L328.95,144.48 L328.97,144.49 L328.99,144.51 L329.01,144.52 L329.03,144.52 L329.04,144.52 L329.06,144.51 L329.08,144.49 L329.1,144.48 L329.12,144.48 L329.14,144.48 L329.15,144.49 L329.17,144.51 L329.19,144.52 L329.21,144.52 L329.23,144.52 L329.25,144.5 L329.27,144.49 L329.28,144.48 L329.3,144.48 L329.32,144.48 L329.34,144.49 L329.36,144.51 L329.38,144.52 L329.39,144.52 L329.41,144.51 L329.43,144.5 L329.45,144.49 L329.47,144.48 L329.58,144.5 L538.8,144.5" fill="none" stroke="#f0343f" stroke-width="1.35" stroke-linecap="butt" stroke-linejoin="round"/>
</g>
<rect x="318.45" y="99.8" width="220.35" height="66.4" fill="none" stroke="#767676" stroke-width="1.1"/>
<path d="M318.45,166.2v2M345.99,166.2v2M373.54,166.2v2M401.08,166.2v2M428.62,166.2v2M456.17,166.2v2M483.71,166.2v2M511.26,166.2v2M538.8,166.2v2M318.45,144.5h-2M318.45,121.5h-2" stroke="#767676" stroke-width="0.8" fill="none"/>
<text x="318.45" y="175.2" class="tk" text-anchor="middle">0</text>
<text x="345.99" y="175.2" class="tk" text-anchor="middle">25</text>
<text x="373.54" y="175.2" class="tk" text-anchor="middle">50</text>
<text x="401.08" y="175.2" class="tk" text-anchor="middle">75</text>
<text x="428.62" y="175.2" class="tk" text-anchor="middle">100</text>
<text x="456.17" y="175.2" class="tk" text-anchor="middle">125</text>
<text x="483.71" y="175.2" class="tk" text-anchor="middle">150</text>
<text x="511.26" y="175.2" class="tk" text-anchor="middle">175</text>
<text x="538.8" y="175.2" class="tk" text-anchor="middle">200</text>
<text x="315.9" y="147.75" class="tk" text-anchor="end">0.0</text>
<text x="315.9" y="124.75" class="tk" text-anchor="end">0.5</text>
<text x="429.23" y="184.9" class="lb xl" text-anchor="middle">Time (s)</text>
<text class="lb" text-anchor="middle" transform="translate(299.7,133) rotate(-90)">Pitch Angular Velocity (rad/s)</text>
<path d="M370.5,111.6 L389.6,111.6" fill="none" stroke="#5050f8" stroke-width="1.2" stroke-linecap="butt" stroke-linejoin="round" stroke-dasharray="1.4,1.0"/>
<text x="397.4" y="114.7" class="lg">TD3 Pitch Angular Velocity <tspan class="m">q</tspan></text>
<path d="M370.5,124.8 L389.6,124.8" fill="none" stroke="#ff5a5a" stroke-width="1.4" stroke-linecap="butt" stroke-linejoin="round"/>
<text x="397.4" y="127.9" class="lg">MR-TD3 Pitch Angular Velocity <tspan class="m">q</tspan></text>
<path d="M318.45,191V257.3M345.99,191V257.3M373.54,191V257.3M401.08,191V257.3M428.62,191V257.3M456.17,191V257.3M483.71,191V257.3M511.26,191V257.3M538.8,191V257.3M318.45,254.2H538.8M318.45,223.85H538.8M318.45,193.5H538.8" stroke="#dcdcdc" stroke-width="0.8" fill="none"/>
<g clip-path="url(#clipF)">
<path d="M319,198.02 L319.02,189.34 L319.05,187.95 L319.07,194.18 L319.09,206.48 L319.11,221.81 L319.13,236.36 L319.16,246.5 L319.18,249.73 L319.2,245.24 L319.22,234.14 L319.24,219.2 L319.27,204.12 L319.29,192.64 L319.31,187.63 L319.33,190.32 L319.36,200.04 L319.38,214.38 L319.4,229.79 L319.42,242.42 L319.44,249.15 L319.47,248.3 L319.49,240.09 L319.51,226.55 L319.53,211.04 L319.55,197.43 L319.58,189.08 L319.6,188.07 L319.62,194.66 L319.64,207.2 L319.66,222.58 L319.69,236.99 L319.71,246.83 L319.73,249.68 L319.75,244.81 L319.77,233.45 L319.8,218.41 L319.82,203.42 L319.84,192.21 L319.86,187.57 L319.89,190.64 L319.91,200.67 L319.93,215.15 L319.95,230.51 L319.97,242.91 L320,249.28 L320.02,248.05 L320.04,239.51 L320.06,225.78 L320.08,210.28 L320.11,196.85 L320.13,188.84 L320.15,188.22 L320.17,195.16 L320.19,207.92 L320.22,223.35 L320.24,237.61 L320.26,247.15 L320.28,249.61 L320.3,244.37 L320.33,232.75 L320.35,217.62 L320.37,202.73 L320.39,191.8 L320.42,187.53 L320.44,190.99 L320.46,201.31 L320.48,215.93 L320.5,231.22 L320.53,243.39 L320.55,249.4 L320.57,247.78 L320.59,238.91 L320.61,225.01 L320.64,209.52 L320.66,196.3 L320.68,188.62 L320.7,188.39 L320.72,195.67 L320.75,208.66 L320.77,224.12 L320.79,238.21 L320.81,247.45 L320.83,249.52 L320.86,243.92 L320.88,232.04 L320.9,216.83 L320.92,202.06 L320.94,191.41 L320.97,187.52 L320.99,191.35 L321.01,201.96 L321.03,216.7 L321.06,231.93 L321.08,243.85 L321.1,249.5 L321.12,247.49 L321.14,238.31 L321.17,224.24 L321.19,208.77 L321.21,195.75 L321.23,188.41 L321.25,188.58 L321.28,196.2 L321.3,209.4 L321.32,224.88 L321.34,238.81 L321.36,247.73 L321.39,249.41 L321.41,243.45 L321.43,231.32 L321.45,216.04 L321.47,201.4 L321.5,191.03 L321.52,187.52 L321.54,214.98 L321.56,216.53 L321.59,218.56 L321.61,220.57 L321.63,222.06 L321.65,222.71 L321.67,222.38 L321.7,221.22 L321.72,219.52 L321.74,217.75 L321.76,216.33 L321.78,215.62 L321.81,215.78 L321.83,216.74 L321.85,218.25 L321.87,219.94 L321.89,221.4 L321.92,222.27 L321.94,222.39 L321.96,221.74 L321.98,220.53 L322,219.08 L322.03,217.75 L322.05,216.87 L322.07,216.66 L322.09,217.15 L322.12,218.2 L322.14,219.55 L322.16,220.86 L322.18,221.83 L322.2,222.23 L322.23,221.99 L322.25,221.2 L322.27,220.07 L322.29,218.91 L322.31,218 L322.34,217.56 L322.36,217.69 L322.38,218.35 L322.4,219.37 L322.42,220.48 L322.45,221.43 L322.47,221.99 L322.49,222.04 L322.51,221.59 L322.53,220.78 L322.56,219.82 L322.58,218.96 L322.6,218.41 L322.62,218.29 L322.65,218.64 L322.67,219.35 L322.69,220.24 L322.71,221.1 L322.73,221.73 L322.76,221.97 L322.78,221.79 L322.8,221.26 L322.82,220.51 L322.84,219.75 L322.87,219.17 L322.89,218.9 L322.91,219.01 L322.93,219.46 L322.95,220.14 L322.98,220.87 L323,221.49 L323.02,221.84 L323.04,221.86 L323.06,221.55 L323.09,221.01 L323.11,220.38 L323.13,219.82 L323.15,219.47 L323.17,219.41 L323.2,219.66 L323.22,220.14 L323.24,220.73 L323.26,221.29 L323.29,221.69 L323.31,221.84 L323.33,221.72 L323.35,221.36 L323.37,220.86 L323.4,220.36 L323.42,219.99 L323.44,219.82 L323.46,219.91 L323.48,220.22 L323.51,220.67 L323.53,221.16 L323.55,221.56 L323.57,221.78 L323.59,221.78 L323.62,221.57 L323.64,221.21 L323.66,220.8 L323.68,220.44 L323.7,220.21 L323.73,220.19 L323.75,220.36 L323.77,220.68 L323.79,221.08 L323.82,221.45 L323.84,221.7 L323.86,221.79 L323.88,221.7 L323.9,221.46 L323.93,221.13 L323.95,220.81 L323.97,220.57 L323.99,220.47 L324.01,220.53 L324.04,220.74 L324.06,221.05 L324.08,221.37 L324.1,221.63 L324.12,221.77 L324.15,221.76 L324.17,221.62 L324.19,221.38 L324.21,221.11 L324.23,220.87 L324.26,220.73 L324.28,220.72 L324.3,220.84 L324.32,221.06 L324.35,221.32 L324.37,221.56 L324.39,221.73 L324.41,221.79 L324.43,221.72 L324.46,221.56 L324.48,221.34 L324.5,221.13 L324.52,220.98 L324.54,220.92 L324.57,220.97 L324.59,221.11 L324.61,221.31 L324.63,221.52 L324.65,221.69 L324.68,221.78 L324.7,221.77 L324.72,221.68 L324.74,221.52 L324.76,221.34 L324.79,221.19 L324.81,221.1 L324.83,221.1 L324.85,221.18 L324.88,221.33 L324.9,221.5 L324.92,221.66 L324.94,221.77 L324.96,221.8 L324.99,221.75 L325.01,221.64 L325.03,221.5 L325.05,221.36 L325.07,221.27 L325.1,221.23 L325.12,221.27 L325.14,221.36 L325.16,221.5 L325.18,221.64 L325.21,221.75 L325.23,221.81 L325.25,221.8 L325.27,221.73 L325.29,221.63 L325.32,221.51 L325.34,221.41 L325.36,221.36 L325.38,221.36 L325.4,221.42 L325.43,221.52 L325.45,221.63 L325.47,221.73 L325.49,221.8 L325.52,221.82 L325.54,221.79 L325.56,221.72 L325.58,221.62 L325.6,221.53 L325.63,221.47 L325.65,221.45 L325.67,221.48 L325.69,221.55 L325.71,221.64 L325.74,221.73 L325.76,221.8 L325.78,221.83 L325.8,221.83 L325.82,221.78 L325.85,221.71 L325.87,221.64 L325.89,221.57 L325.91,221.54 L325.93,221.54 L325.96,221.58 L325.98,221.65 L326,221.73 L326.02,221.8 L326.05,221.84 L326.07,221.85 L326.09,221.83 L326.11,221.78 L326.13,221.72 L326.16,221.66 L326.18,221.62 L326.2,221.61 L326.22,221.63 L326.24,221.67 L326.27,221.73 L326.29,221.79 L326.31,221.84 L326.33,221.86 L326.35,221.86 L326.38,221.83 L326.4,221.78 L326.42,221.73 L326.44,221.69 L326.46,221.67 L326.49,221.68 L326.51,221.7 L326.53,221.75 L326.55,221.8 L326.58,221.84 L326.6,221.87 L326.62,221.88 L326.64,221.86 L326.66,221.83 L326.69,221.79 L326.71,221.75 L326.73,221.73 L326.75,221.72 L326.77,221.74 L326.8,221.77 L326.82,221.81 L326.84,221.85 L326.86,221.88 L326.88,221.89 L326.91,221.89 L326.93,221.87 L326.95,221.84 L326.97,221.8 L326.99,221.78 L327.02,221.77 L327.04,221.77 L327.06,221.79 L327.08,221.82 L327.11,221.85 L327.13,221.88 L327.15,221.9 L327.17,221.91 L327.19,221.9 L327.22,221.87 L327.24,221.85 L327.26,221.82 L327.28,221.81 L327.3,221.8 L327.33,221.82 L327.35,221.84 L327.37,221.86 L327.39,221.89 L327.41,221.91 L327.44,221.92 L327.46,221.92 L327.48,221.9 L327.5,221.88 L327.52,221.86 L327.55,221.84 L327.57,221.84 L327.59,221.84 L327.61,221.85 L327.63,221.88 L327.66,221.9 L327.68,221.92 L327.7,221.93 L327.72,221.93 L327.75,221.92 L327.77,221.91 L327.79,221.89 L327.81,221.88 L327.83,221.87 L327.86,221.87 L327.88,221.87 L327.9,221.89 L327.92,221.91 L327.94,221.92 L327.97,221.94 L327.99,221.94 L328.01,221.94 L328.03,221.93 L328.05,221.92 L328.08,221.91 L328.1,221.9 L328.12,221.89 L328.14,221.89 L328.16,221.9 L328.19,221.92 L328.21,221.93 L328.23,221.95 L328.25,221.95 L328.28,221.96 L328.3,221.95 L328.32,221.94 L328.34,221.93 L328.36,221.92 L328.39,221.91 L328.41,221.91 L328.43,221.92 L328.45,221.93 L328.47,221.94 L328.5,221.95 L328.52,221.96 L328.54,221.97 L328.56,221.97 L328.58,221.96 L328.61,221.95 L328.63,221.94 L328.65,221.94 L328.67,221.93 L328.69,221.94 L328.72,221.94 L328.74,221.95 L328.76,221.96 L328.78,221.97 L328.81,221.98 L328.83,221.98 L328.85,221.97 L328.87,221.97 L328.89,221.96 L328.92,221.96 L328.94,221.95 L328.96,221.95 L328.98,221.96 L329,221.96 L329.03,221.97 L329.05,221.98 L329.07,221.99 L329.09,221.99 L329.11,221.99 L329.14,221.98 L329.16,221.98 L329.18,221.97 L329.2,221.97 L329.22,221.97 L329.25,221.97 L329.27,221.97 L329.29,221.98 L329.31,221.99 L329.34,221.99 L329.36,222 L329.38,222 L329.4,222 L329.42,221.99 L329.45,221.99 L329.47,221.98 L329.47,221.99 L330.17,222.02 L330.87,222.05 L331.57,222.08 L332.27,222.1 L332.97,222.13 L333.67,222.16 L334.37,222.19 L335.07,222.22 L335.77,222.25 L336.47,222.28 L337.17,222.32 L337.87,222.36 L338.57,222.39 L339.27,222.43 L339.97,222.47 L340.67,222.52 L341.37,222.56 L342.07,222.61 L342.77,222.65 L343.47,222.7 L344.17,222.75 L344.87,222.8 L345.57,222.85 L346.27,222.9 L346.97,222.95 L347.67,223.01 L348.37,223.06 L349.07,223.11 L349.77,223.17 L350.47,223.23 L351.17,223.28 L351.87,223.34 L352.57,223.4 L353.27,223.46 L353.97,223.52 L354.67,223.58 L355.37,223.64 L356.07,223.7 L356.77,223.76 L357.47,223.82 L358.17,223.88 L358.87,223.94 L359.57,224 L360.27,224.06 L360.97,224.12 L361.67,224.18 L362.37,224.24 L363.07,224.3 L363.77,224.35 L364.47,224.41 L365.17,224.47 L365.87,224.53 L366.57,224.58 L367.27,224.64 L367.97,224.69 L368.67,224.75 L369.37,224.8 L370.07,224.85 L370.77,224.9 L371.47,224.95 L372.17,225 L372.87,225.05 L373.57,225.09 L374.27,225.14 L374.97,225.18 L375.67,225.22 L376.37,225.26 L377.07,225.3 L377.77,225.34 L378.48,225.38 L379.18,225.41 L379.88,225.45 L380.58,225.48 L381.28,225.51 L381.98,225.54 L382.68,225.56 L383.38,225.59 L384.08,225.61 L384.78,225.63 L385.48,225.65 L386.18,225.67 L386.88,225.69 L387.58,225.7 L388.28,225.71 L388.98,225.72 L389.68,225.73 L390.38,225.74 L391.08,225.74 L391.78,225.75 L392.48,225.75 L393.18,225.75 L393.88,225.74 L394.58,225.74 L395.28,225.73 L395.98,225.72 L396.68,225.71 L397.38,225.7 L398.08,225.69 L398.78,225.67 L399.48,225.65 L400.18,225.63 L400.88,225.61 L401.58,225.59 L402.28,225.56 L402.98,225.53 L403.68,225.51 L404.38,225.48 L405.08,225.44 L405.78,225.41 L406.48,225.38 L407.18,225.34 L407.88,225.3 L408.58,225.26 L409.28,225.22 L409.98,225.18 L410.68,225.13 L411.38,225.09 L412.08,225.04 L412.78,225 L413.48,224.95 L414.18,224.9 L414.88,224.85 L415.58,224.79 L416.28,224.74 L416.98,224.69 L417.68,224.63 L418.38,224.58 L419.08,224.52 L419.78,224.47 L420.48,224.41 L421.18,224.35 L421.88,224.29 L422.58,224.23 L423.28,224.17 L423.98,224.11 L424.68,224.05 L425.38,223.99 L426.08,223.93 L426.78,223.87 L427.48,223.81 L428.18,223.75 L428.88,223.69 L429.58,223.63 L430.28,223.57 L430.98,223.51 L431.68,223.46 L432.38,223.4 L433.08,223.34 L433.78,223.28 L434.48,223.22 L435.18,223.17 L435.88,223.11 L436.58,223.06 L437.28,223 L437.98,222.95 L438.68,222.9 L439.38,222.84 L440.08,222.79 L440.78,222.74 L441.48,222.7 L442.18,222.65 L442.89,222.6 L443.59,222.56 L444.29,222.51 L444.99,222.47 L445.69,222.43 L446.39,222.39 L447.09,222.35 L447.79,222.32 L448.49,222.28 L449.19,222.25 L449.89,222.22 L450.59,222.19 L451.29,222.16 L451.99,222.13 L452.69,222.11 L453.39,222.09 L454.09,222.06 L454.79,222.05 L455.49,222.03 L456.19,222.01 L456.89,222 L457.59,221.99 L458.29,221.98 L458.99,221.97 L459.69,221.96 L460.39,221.96 L461.09,221.95 L461.79,221.95 L462.49,221.95 L463.19,221.96 L463.89,221.96 L464.59,221.97 L465.29,221.98 L465.99,221.99 L466.69,222 L467.39,222.02 L468.09,222.03 L468.79,222.05 L469.49,222.07 L470.19,222.09 L470.89,222.12 L471.59,222.14 L472.29,222.17 L472.99,222.2 L473.69,222.23 L474.39,222.26 L475.09,222.29 L475.79,222.33 L476.49,222.37 L477.19,222.4 L477.89,222.44 L478.59,222.48 L479.29,222.53 L479.99,222.57 L480.69,222.62 L481.39,222.66 L482.09,222.71 L482.79,222.76 L483.49,222.81 L484.19,222.86 L484.89,222.91 L485.59,222.96 L486.29,223.02 L486.99,223.07 L487.69,223.13 L488.39,223.18 L489.09,223.24 L489.79,223.3 L490.49,223.36 L491.19,223.42 L491.89,223.47 L492.59,223.53 L493.29,223.59 L493.99,223.65 L494.69,223.71 L495.39,223.77 L496.09,223.83 L496.79,223.89 L497.49,223.95 L498.19,224.01 L498.89,224.07 L499.59,224.13 L500.29,224.19 L500.99,224.25 L501.69,224.31 L502.39,224.37 L503.09,224.43 L503.79,224.48 L504.49,224.54 L505.19,224.6 L505.89,224.65 L506.59,224.71 L507.3,224.76 L508,224.81 L508.7,224.86 L509.4,224.91 L510.1,224.96 L510.8,225.01 L511.5,225.06 L512.2,225.1 L512.9,225.15 L513.6,225.19 L514.3,225.23 L515,225.27 L515.7,225.31 L516.4,225.35 L517.1,225.39 L517.8,225.42 L518.5,225.45 L519.2,225.49 L519.9,225.52 L520.6,225.54 L521.3,225.57 L522,225.59 L522.7,225.62 L523.4,225.64 L524.1,225.66 L524.8,225.67 L525.5,225.69 L526.2,225.7 L526.9,225.72 L527.6,225.73 L528.3,225.73 L529,225.74 L529.7,225.74 L530.4,225.75 L531.1,225.75 L531.8,225.75 L532.5,225.74 L533.2,225.74 L533.9,225.73 L534.6,225.72 L535.3,225.71 L536,225.7 L536.7,225.68 L537.4,225.67 L538.1,225.65 L538.8,225.63" fill="none" stroke="#f21c1c" stroke-width="0.9" stroke-linecap="butt" stroke-linejoin="round"/>
<path d="M318.5,224.1 L318.9,193 L319.4,255 L319.9,193 L320.4,255 L320.9,200 L321.3,245 L321.6,222" fill="none" stroke="#2a2ad8" stroke-width="1.3" stroke-linecap="butt" stroke-linejoin="round" stroke-dasharray="2.2,1.6"/>
<path d="M321.6,222 L322,222 L322.6,224 L323.3,222.6 L324.3,222.8 L325,222.9 L325.4,226.5 L325.8,222.8 L327,222.6 L327.76,221.99 L328.47,222.01 L329.18,222.02 L329.88,222.04 L330.59,222.06 L331.29,222.08 L332,222.1 L332.71,222.13 L333.41,222.15 L334.12,222.18 L334.82,222.21 L335.53,222.24 L336.23,222.27 L336.94,222.31 L337.65,222.34 L338.35,222.38 L339.06,222.42 L339.76,222.46 L340.47,222.5 L341.18,222.55 L341.88,222.59 L342.59,222.64 L343.29,222.69 L344,222.74 L344.7,222.78 L345.41,222.84 L346.12,222.89 L346.82,222.94 L347.53,222.99 L348.23,223.05 L348.94,223.1 L349.64,223.16 L350.35,223.22 L351.06,223.28 L351.76,223.33 L352.47,223.39 L353.17,223.45 L353.88,223.51 L354.59,223.57 L355.29,223.63 L356,223.69 L356.7,223.75 L357.41,223.81 L358.11,223.87 L358.82,223.93 L359.53,223.99 L360.23,224.06 L360.94,224.12 L361.64,224.18 L362.35,224.24 L363.05,224.29 L363.76,224.35 L364.47,224.41 L365.17,224.47 L365.88,224.53 L366.58,224.58 L367.29,224.64 L368,224.69 L368.7,224.75 L369.41,224.8 L370.11,224.85 L370.82,224.9 L371.52,224.95 L372.23,225 L372.94,225.05 L373.64,225.1 L374.35,225.14 L375.05,225.19 L375.76,225.23 L376.47,225.27 L377.17,225.31 L377.88,225.35 L378.58,225.38 L379.29,225.42 L379.99,225.45 L380.7,225.48 L381.41,225.51 L382.11,225.54 L382.82,225.57 L383.52,225.59 L384.23,225.62 L384.93,225.64 L385.64,225.66 L386.35,225.67 L387.05,225.69 L387.76,225.7 L388.46,225.72 L389.17,225.73 L389.88,225.73 L390.58,225.74 L391.29,225.74 L391.99,225.75 L392.7,225.75 L393.4,225.75 L394.11,225.74 L394.82,225.74 L395.52,225.73 L396.23,225.72 L396.93,225.71 L397.64,225.69 L398.35,225.68 L399.05,225.66 L399.76,225.64 L400.46,225.62 L401.17,225.6 L401.87,225.58 L402.58,225.55 L403.29,225.52 L403.99,225.49 L404.7,225.46 L405.4,225.43 L406.11,225.39 L406.81,225.36 L407.52,225.32 L408.23,225.28 L408.93,225.24 L409.64,225.2 L410.34,225.16 L411.05,225.11 L411.76,225.06 L412.46,225.02 L413.17,224.97 L413.87,224.92 L414.58,224.87 L415.28,224.82 L415.99,224.76 L416.7,224.71 L417.4,224.66 L418.11,224.6 L418.81,224.54 L419.52,224.49 L420.23,224.43 L420.93,224.37 L421.64,224.31 L422.34,224.25 L423.05,224.19 L423.75,224.13 L424.46,224.07 L425.17,224.01 L425.87,223.95 L426.58,223.89 L427.28,223.83 L427.99,223.77 L428.69,223.71 L429.4,223.65 L430.11,223.59 L430.81,223.53 L431.52,223.47 L432.22,223.41 L432.93,223.35 L433.64,223.29 L434.34,223.23 L435.05,223.18 L435.75,223.12 L436.46,223.07 L437.16,223.01 L437.87,222.96 L438.58,222.9 L439.28,222.85 L439.99,222.8 L440.69,222.75 L441.4,222.7 L442.1,222.65 L442.81,222.61 L443.52,222.56 L444.22,222.52 L444.93,222.48 L445.63,222.43 L446.34,222.39 L447.05,222.36 L447.75,222.32 L448.46,222.28 L449.16,222.25 L449.87,222.22 L450.57,222.19 L451.28,222.16 L451.99,222.13 L452.69,222.11 L453.4,222.09 L454.1,222.06 L454.81,222.04 L455.52,222.03 L456.22,222.01 L456.93,222 L457.63,221.98 L458.34,221.97 L459.04,221.97 L459.75,221.96 L460.46,221.96 L461.16,221.95 L461.87,221.95 L462.57,221.95 L463.28,221.96 L463.98,221.96 L464.69,221.97 L465.4,221.98 L466.1,221.99 L466.81,222 L467.51,222.02 L468.22,222.04 L468.93,222.05 L469.63,222.08 L470.34,222.1 L471.04,222.12 L471.75,222.15 L472.45,222.18 L473.16,222.2 L473.87,222.24 L474.57,222.27 L475.28,222.3 L475.98,222.34 L476.69,222.38 L477.4,222.42 L478.1,222.46 L478.81,222.5 L479.51,222.54 L480.22,222.59 L480.92,222.63 L481.63,222.68 L482.34,222.73 L483.04,222.78 L483.75,222.83 L484.45,222.88 L485.16,222.93 L485.86,222.99 L486.57,223.04 L487.28,223.1 L487.98,223.15 L488.69,223.21 L489.39,223.27 L490.1,223.32 L490.81,223.38 L491.51,223.44 L492.22,223.5 L492.92,223.56 L493.63,223.62 L494.33,223.68 L495.04,223.74 L495.75,223.8 L496.45,223.86 L497.16,223.92 L497.86,223.99 L498.57,224.05 L499.28,224.11 L499.98,224.17 L500.69,224.23 L501.39,224.29 L502.1,224.34 L502.8,224.4 L503.51,224.46 L504.22,224.52 L504.92,224.57 L505.63,224.63 L506.33,224.68 L507.04,224.74 L507.74,224.79 L508.45,224.84 L509.16,224.9 L509.86,224.95 L510.57,224.99 L511.27,225.04 L511.98,225.09 L512.69,225.13 L513.39,225.18 L514.1,225.22 L514.8,225.26 L515.51,225.3 L516.21,225.34 L516.92,225.38 L517.63,225.41 L518.33,225.45 L519.04,225.48 L519.74,225.51 L520.45,225.54 L521.15,225.56 L521.86,225.59 L522.57,225.61 L523.27,225.63 L523.98,225.65 L524.68,225.67 L525.39,225.69 L526.1,225.7 L526.8,225.71 L527.51,225.72 L528.21,225.73 L528.92,225.74 L529.62,225.74 L530.33,225.75 L531.04,225.75 L531.74,225.75 L532.45,225.74 L533.15,225.74 L533.86,225.73 L534.57,225.72 L535.27,225.71 L535.98,225.7 L536.68,225.68 L537.39,225.67 L538.09,225.65 L538.8,225.63" fill="none" stroke="#2a2ad8" stroke-width="1.35" stroke-linecap="butt" stroke-linejoin="round" stroke-dasharray="1.8,1.3"/>
</g>
<rect x="318.45" y="191" width="220.35" height="66.3" fill="none" stroke="#767676" stroke-width="1.1"/>
<path d="M318.45,257.3v2M345.99,257.3v2M373.54,257.3v2M401.08,257.3v2M428.62,257.3v2M456.17,257.3v2M483.71,257.3v2M511.26,257.3v2M538.8,257.3v2M318.45,254.2h-2M318.45,223.85h-2M318.45,193.5h-2" stroke="#767676" stroke-width="0.8" fill="none"/>
<text x="318.45" y="266.3" class="tk" text-anchor="middle">0</text>
<text x="345.99" y="266.3" class="tk" text-anchor="middle">25</text>
<text x="373.54" y="266.3" class="tk" text-anchor="middle">50</text>
<text x="401.08" y="266.3" class="tk" text-anchor="middle">75</text>
<text x="428.62" y="266.3" class="tk" text-anchor="middle">100</text>
<text x="456.17" y="266.3" class="tk" text-anchor="middle">125</text>
<text x="483.71" y="266.3" class="tk" text-anchor="middle">150</text>
<text x="511.26" y="266.3" class="tk" text-anchor="middle">175</text>
<text x="538.8" y="266.3" class="tk" text-anchor="middle">200</text>
<text x="315.9" y="257.45" class="tk" text-anchor="end">−200</text>
<text x="315.9" y="227.1" class="tk" text-anchor="end">0</text>
<text x="315.9" y="196.75" class="tk" text-anchor="end">200</text>
<text x="429.23" y="276" class="lb xl" text-anchor="middle">Time (s)</text>
<text class="lb" text-anchor="middle" transform="translate(290.4,224.15) rotate(-90)">Control Value (N)</text>
<path d="M400,203.2 L419.4,203.2" fill="none" stroke="#5050f8" stroke-width="1.6" stroke-linecap="butt" stroke-linejoin="round" stroke-dasharray="1.8,1.4"/>
<text x="427.2" y="206.3" class="lg">TD3 Control Value <tspan class="m">δ</tspan><tspan class="m" font-size="6.5" dy="1.8">b</tspan></text>
<path d="M400,216.6 L419.4,216.6" fill="none" stroke="#fa3a3a" stroke-width="1.2" stroke-linecap="butt" stroke-linejoin="round"/>
<text x="427.2" y="219.7" class="lg">MR-TD3 Control Value <tspan class="m">δ</tspan><tspan class="m" font-size="6.5" dy="1.8">b</tspan></text>
<text x="137" y="296.2" class="cap" text-anchor="middle">(<tspan font-weight="bold">c</tspan>)</text>
<text x="413.7" y="296.2" class="cap" text-anchor="middle">(<tspan font-weight="bold">d</tspan>)</text>
</svg></body></html>
